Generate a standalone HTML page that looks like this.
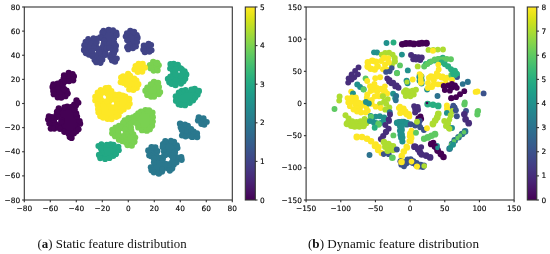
<!DOCTYPE html>
<html><head><meta charset="utf-8"><style>
html,body{margin:0;padding:0;background:#fff;width:550px;height:254px;overflow:hidden}
svg{display:block}
</style></head><body>
<svg width="550" height="254" viewBox="0 0 550 254">
<defs><linearGradient id="g1" x1="0" y1="1" x2="0" y2="0"><stop offset="0.0000" stop-color="#440154"/><stop offset="0.0312" stop-color="#470d60"/><stop offset="0.0625" stop-color="#48186a"/><stop offset="0.0938" stop-color="#482374"/><stop offset="0.1250" stop-color="#472d7b"/><stop offset="0.1562" stop-color="#453781"/><stop offset="0.1875" stop-color="#424086"/><stop offset="0.2188" stop-color="#3e4989"/><stop offset="0.2500" stop-color="#3b528b"/><stop offset="0.2812" stop-color="#375b8d"/><stop offset="0.3125" stop-color="#33638d"/><stop offset="0.3438" stop-color="#2f6b8e"/><stop offset="0.3750" stop-color="#2c728e"/><stop offset="0.4062" stop-color="#297a8e"/><stop offset="0.4375" stop-color="#26828e"/><stop offset="0.4688" stop-color="#23898e"/><stop offset="0.5000" stop-color="#21918c"/><stop offset="0.5312" stop-color="#1f988b"/><stop offset="0.5625" stop-color="#1fa088"/><stop offset="0.5938" stop-color="#22a785"/><stop offset="0.6250" stop-color="#28ae80"/><stop offset="0.6562" stop-color="#32b67a"/><stop offset="0.6875" stop-color="#3fbc73"/><stop offset="0.7188" stop-color="#4ec36b"/><stop offset="0.7500" stop-color="#5ec962"/><stop offset="0.7812" stop-color="#70cf57"/><stop offset="0.8125" stop-color="#84d44b"/><stop offset="0.8438" stop-color="#98d83e"/><stop offset="0.8750" stop-color="#addc30"/><stop offset="0.9062" stop-color="#c2df23"/><stop offset="0.9375" stop-color="#d8e219"/><stop offset="0.9688" stop-color="#ece51b"/><stop offset="1.0000" stop-color="#fde725"/></linearGradient></defs>
<g fill="#440154"><path d="M75.8,100.5 L75.2,100.8 L74.8,101.2 L74.5,101.8 L74.5,102.2 L74.5,102.8 L74.5,103.2 L74.5,103.8 L74.2,104.2 L74.0,104.8 L73.8,105.2 L73.2,105.8 L73.0,106.2 L72.5,106.5 L72.0,106.8 L71.5,107.0 L71.0,107.0 L70.5,107.0 L70.0,106.8 L69.5,106.8 L69.0,106.5 L68.5,106.5 L68.0,106.8 L67.5,106.8 L67.0,106.8 L66.5,106.8 L66.0,107.0 L65.5,107.0 L65.0,107.0 L64.5,107.0 L64.0,107.2 L63.5,107.2 L63.0,107.2 L62.5,107.5 L62.0,107.5 L61.5,107.5 L61.0,107.8 L60.5,107.8 L60.0,107.8 L59.5,108.0 L59.0,108.0 L58.5,108.5 L58.2,109.0 L58.0,109.5 L57.5,110.0 L57.2,110.5 L57.0,111.0 L57.0,111.5 L56.8,112.0 L56.8,112.5 L56.5,113.0 L56.5,113.5 L56.2,114.0 L56.5,114.5 L56.5,115.0 L56.8,115.5 L56.8,116.0 L56.5,116.5 L56.5,117.0 L56.5,117.2 L57.0,117.0 L57.5,116.8 L58.0,116.8 L58.5,117.0 L59.0,117.2 L59.5,117.2 L60.0,117.5 L60.5,118.0 L61.0,118.5 L61.2,119.0 L61.2,119.5 L61.5,120.0 L61.8,120.5 L61.8,121.0 L61.5,121.5 L61.2,122.0 L61.2,122.5 L61.0,123.0 L60.5,123.5 L60.0,124.0 L59.5,124.2 L59.0,124.2 L58.5,124.5 L58.0,124.8 L57.5,125.0 L57.0,125.0 L56.5,124.8 L56.0,124.5 L55.5,124.2 L55.2,123.8 L54.8,123.2 L54.5,122.8 L54.2,122.2 L54.0,121.8 L54.0,121.2 L53.8,120.8 L54.0,120.2 L54.0,119.8 L54.2,119.2 L54.5,118.8 L54.8,118.2 L54.2,118.5 L53.8,118.2 L53.2,118.2 L52.8,118.0 L52.2,117.5 L51.8,117.0 L51.5,116.8 L51.0,116.5 L50.5,116.2 L50.0,116.0 L49.5,116.0 L49.0,116.0 L48.5,116.5 L48.0,116.8 L47.5,117.2 L47.5,117.8 L47.5,118.2 L47.5,118.8 L47.8,119.2 L48.2,119.8 L48.5,120.2 L48.8,120.8 L49.0,121.2 L49.2,121.8 L49.2,122.2 L49.2,122.8 L49.2,123.2 L49.2,123.8 L49.2,124.2 L49.5,124.8 L49.5,125.2 L49.5,125.8 L49.5,126.2 L49.5,126.8 L50.0,127.2 L50.2,127.8 L50.5,128.2 L51.0,128.8 L51.5,129.0 L52.0,129.0 L52.5,129.0 L53.0,129.0 L53.5,129.0 L54.0,128.8 L54.5,128.5 L55.0,128.2 L55.5,127.8 L56.0,127.5 L56.5,127.2 L57.0,127.2 L57.5,127.0 L58.0,127.0 L58.5,127.2 L59.0,127.5 L59.5,127.8 L59.8,128.2 L60.0,128.8 L60.2,129.2 L60.5,129.5 L61.0,130.0 L61.5,130.2 L62.0,130.8 L62.5,131.0 L63.0,131.5 L63.5,131.5 L64.0,131.8 L64.5,131.8 L65.0,131.8 L65.5,132.0 L66.0,132.0 L66.5,132.2 L67.0,132.5 L67.5,132.8 L68.0,133.0 L68.5,133.5 L68.8,134.0 L68.8,134.5 L69.0,135.0 L69.2,135.5 L69.2,136.0 L69.5,136.5 L69.8,137.0 L69.8,137.5 L70.0,138.0 L70.5,138.2 L71.0,138.5 L71.2,138.2 L71.8,137.8 L72.2,137.2 L72.5,136.8 L72.8,136.2 L72.8,135.8 L73.0,135.2 L73.0,134.8 L73.2,134.2 L73.5,133.8 L73.8,133.2 L74.0,132.8 L74.5,132.5 L75.0,132.0 L75.5,131.8 L76.0,131.5 L76.5,131.2 L77.0,130.8 L77.5,130.5 L78.0,130.2 L78.2,129.8 L78.5,129.2 L78.8,128.8 L79.0,128.2 L79.2,127.8 L79.5,127.2 L79.8,126.8 L80.0,126.2 L80.2,125.8 L80.2,125.2 L80.2,124.8 L80.2,124.2 L80.2,123.8 L80.2,123.2 L80.2,122.8 L80.2,122.2 L80.0,121.8 L79.8,121.2 L79.5,120.8 L79.0,120.2 L78.8,119.8 L78.5,119.2 L78.0,118.8 L77.8,118.2 L77.5,117.8 L77.2,117.2 L77.0,116.8 L76.8,116.2 L76.8,115.8 L76.5,115.2 L76.5,114.8 L76.5,114.2 L76.2,113.8 L76.2,113.2 L76.0,112.8 L76.0,112.2 L76.0,111.8 L75.8,111.2 L75.2,110.8 L75.0,110.2 L74.8,109.8 L74.5,109.2 L74.5,108.8 L74.5,108.2 L74.8,107.8 L75.0,107.2 L75.2,106.8 L75.8,106.2 L75.8,105.8 L76.0,105.2 L76.5,104.8 L77.0,104.5 L77.5,104.2 L78.0,104.0 L78.2,103.5 L78.5,103.0 L78.5,102.5 L78.5,102.0 L78.2,101.5 L78.0,101.0 L77.5,100.8 L77.0,100.5 L76.5,100.5 L76.0,100.5ZM67.8,72.8 L67.2,73.0 L66.8,73.2 L66.2,73.5 L65.8,73.8 L65.2,74.0 L64.8,74.2 L64.5,74.5 L64.2,75.0 L64.0,75.5 L63.8,76.0 L63.5,76.5 L63.5,77.0 L63.5,77.5 L63.5,78.0 L63.5,78.5 L63.2,79.0 L63.2,79.5 L63.0,80.0 L62.8,80.5 L62.5,81.0 L62.0,81.5 L61.5,82.0 L61.2,82.5 L60.8,83.0 L60.2,83.2 L59.8,83.5 L59.2,83.8 L58.8,83.8 L58.2,83.8 L57.8,83.5 L57.2,83.5 L56.8,83.5 L56.2,83.5 L55.8,83.5 L55.2,83.5 L54.8,83.8 L54.2,84.0 L53.8,84.0 L53.2,84.2 L52.8,84.2 L52.5,84.8 L52.2,85.2 L52.2,85.8 L52.5,86.2 L52.5,86.8 L52.8,87.2 L53.0,87.8 L53.2,88.2 L53.2,88.8 L53.5,89.2 L53.5,89.8 L53.5,90.2 L53.2,90.8 L53.2,91.2 L53.0,91.8 L53.0,92.2 L53.0,92.8 L53.0,93.2 L53.2,93.8 L53.8,94.2 L54.0,94.8 L54.2,95.2 L54.5,95.8 L55.0,96.0 L55.5,96.2 L56.0,96.8 L56.5,97.0 L57.0,97.2 L57.5,97.5 L58.0,98.0 L58.5,98.0 L59.0,97.8 L59.5,97.8 L60.0,97.8 L60.5,97.8 L61.0,97.8 L61.5,97.5 L62.0,97.5 L62.5,97.2 L63.0,97.2 L63.5,97.0 L64.0,96.8 L64.5,96.5 L65.0,96.2 L65.5,96.0 L66.0,96.0 L66.5,95.8 L66.8,95.2 L67.0,94.8 L67.2,94.2 L67.5,93.8 L67.8,93.2 L67.8,92.8 L67.8,92.2 L67.5,91.8 L67.5,91.2 L67.2,90.8 L66.8,90.5 L66.2,90.2 L65.8,90.0 L65.2,89.8 L64.8,89.5 L64.2,89.2 L63.8,88.8 L63.5,88.2 L63.5,87.8 L63.2,87.2 L63.0,86.8 L63.0,86.2 L62.8,85.8 L62.8,85.2 L62.8,84.8 L63.0,84.2 L63.0,83.8 L63.2,83.2 L63.8,82.8 L64.0,82.2 L64.2,81.8 L64.8,81.5 L65.2,81.2 L65.8,81.0 L66.2,81.0 L66.8,81.0 L67.2,81.2 L67.8,81.2 L68.2,81.2 L68.8,81.2 L69.2,81.2 L69.8,81.2 L70.2,81.5 L70.8,81.5 L71.2,81.5 L71.8,81.2 L72.2,81.0 L72.8,80.5 L73.2,80.2 L73.5,79.8 L73.8,79.2 L73.8,78.8 L74.0,78.2 L74.0,77.8 L74.0,77.2 L74.0,76.8 L73.8,76.2 L73.8,75.8 L73.5,75.2 L73.5,74.8 L73.0,74.5 L72.5,74.0 L72.0,73.5 L71.5,73.2 L71.0,73.0 L70.5,73.0 L70.0,73.0 L69.5,73.0 L69.0,73.0 L68.5,72.8 L68.0,72.8Z" fill-rule="evenodd"/><circle cx="76.5" cy="100.5" r="3.20"/><circle cx="74.1" cy="104.6" r="3.03"/><circle cx="71.6" cy="106.9" r="3.08"/><circle cx="67.2" cy="106.8" r="3.19"/><circle cx="64.3" cy="107.2" r="2.96"/><circle cx="58.7" cy="108.3" r="3.08"/><circle cx="56.8" cy="111.7" r="2.95"/><circle cx="56.5" cy="115.1" r="3.17"/><circle cx="57.5" cy="116.8" r="3.23"/><circle cx="61.5" cy="119.9" r="2.96"/><circle cx="61.2" cy="122.0" r="3.11"/><circle cx="56.6" cy="124.8" r="3.06"/><circle cx="54.6" cy="123.1" r="3.08"/><circle cx="54.1" cy="119.7" r="3.02"/><circle cx="51.9" cy="117.1" r="3.10"/><circle cx="48.8" cy="116.2" r="3.02"/><circle cx="48.1" cy="119.6" r="3.09"/><circle cx="49.2" cy="123.6" r="2.96"/><circle cx="50.8" cy="128.6" r="3.12"/><circle cx="54.3" cy="128.7" r="3.01"/><circle cx="58.6" cy="127.2" r="3.21"/><circle cx="60.0" cy="128.9" r="3.05"/><circle cx="64.3" cy="131.8" r="3.16"/><circle cx="68.4" cy="133.4" r="3.08"/><circle cx="69.8" cy="137.0" r="3.15"/><circle cx="71.6" cy="137.9" r="3.13"/><circle cx="73.8" cy="133.2" r="3.20"/><circle cx="76.4" cy="131.2" r="3.13"/><circle cx="78.6" cy="129.2" r="3.02"/><circle cx="80.2" cy="123.8" r="3.07"/><circle cx="79.6" cy="121.1" r="3.11"/><circle cx="77.0" cy="116.6" r="3.15"/><circle cx="76.2" cy="113.3" r="3.08"/><circle cx="74.6" cy="109.3" r="3.18"/><circle cx="76.0" cy="105.5" r="3.07"/><circle cx="78.5" cy="102.7" r="2.96"/><circle cx="68.7" cy="72.9" r="3.16"/><circle cx="64.0" cy="75.5" r="3.13"/><circle cx="63.5" cy="78.4" r="3.00"/><circle cx="61.4" cy="82.1" r="3.24"/><circle cx="57.5" cy="83.5" r="3.11"/><circle cx="53.3" cy="84.2" r="3.02"/><circle cx="52.7" cy="86.9" r="3.24"/><circle cx="53.2" cy="90.9" r="3.09"/><circle cx="53.7" cy="94.2" r="3.11"/><circle cx="57.6" cy="97.6" r="2.95"/><circle cx="61.2" cy="97.5" r="3.20"/><circle cx="65.3" cy="96.2" r="3.17"/><circle cx="67.7" cy="93.5" r="3.11"/><circle cx="66.6" cy="90.5" r="3.08"/><circle cx="64.0" cy="89.0" r="3.21"/><circle cx="63.0" cy="84.2" r="3.01"/><circle cx="65.3" cy="81.2" r="3.10"/><circle cx="69.1" cy="81.2" r="3.05"/><circle cx="73.2" cy="80.3" r="3.14"/><circle cx="73.9" cy="76.4" r="3.09"/><circle cx="72.6" cy="74.1" r="3.02"/></g>
<g fill="#414487"><path d="M148.0,43.8 L147.5,44.0 L147.0,44.0 L146.5,44.0 L146.0,44.2 L145.5,44.2 L145.0,44.5 L144.5,45.0 L144.2,45.5 L143.8,46.0 L143.5,46.5 L143.5,47.0 L143.5,47.5 L143.2,48.0 L143.2,48.5 L143.2,49.0 L143.2,49.5 L143.8,50.0 L144.0,50.5 L144.2,51.0 L144.5,51.5 L144.8,52.0 L145.2,52.0 L145.8,52.2 L146.2,52.5 L146.8,52.8 L147.2,52.5 L147.8,52.5 L148.2,52.2 L148.8,52.0 L149.2,52.0 L149.8,51.8 L150.2,51.2 L150.8,50.8 L151.2,50.5 L151.8,50.0 L152.0,49.5 L152.0,49.0 L152.0,48.5 L152.2,48.0 L152.2,47.5 L152.2,47.0 L152.0,46.5 L151.8,46.0 L151.5,45.5 L151.0,45.0 L150.8,44.8 L150.2,44.5 L149.8,44.5 L149.2,44.2 L148.8,44.0 L148.2,43.8ZM129.5,30.8 L129.0,31.0 L128.5,31.5 L128.0,31.8 L127.8,32.2 L127.2,32.8 L127.0,33.2 L126.5,33.8 L126.2,34.2 L126.2,34.8 L126.0,35.2 L126.0,35.8 L126.0,36.2 L125.8,36.8 L126.0,37.2 L126.2,37.8 L126.5,38.2 L126.5,38.8 L126.8,39.2 L127.0,39.8 L127.2,40.2 L127.5,40.8 L127.8,41.2 L128.0,41.8 L128.2,42.2 L128.5,42.8 L128.8,43.2 L129.0,43.8 L129.2,44.2 L129.2,44.8 L129.0,45.2 L128.8,45.8 L128.5,46.2 L128.0,46.5 L127.5,47.0 L127.0,47.2 L126.5,47.8 L126.5,48.2 L127.0,48.8 L127.5,49.0 L128.0,49.2 L128.5,49.2 L129.0,49.2 L129.5,49.2 L130.0,49.2 L130.5,49.2 L131.0,49.2 L131.5,49.0 L132.0,48.8 L132.5,48.5 L133.0,48.2 L133.5,48.0 L134.0,47.8 L134.5,47.2 L135.0,47.0 L135.5,46.5 L136.0,46.0 L136.2,45.8 L136.2,45.2 L136.5,44.8 L136.5,44.2 L136.8,43.8 L136.8,43.2 L137.0,42.8 L137.0,42.2 L137.0,41.8 L137.2,41.2 L137.2,40.8 L137.2,40.2 L137.5,39.8 L137.5,39.2 L137.5,38.8 L137.5,38.2 L137.5,37.8 L137.5,37.2 L137.5,36.8 L137.5,36.2 L137.2,35.8 L137.0,35.2 L136.8,34.8 L136.5,34.2 L136.0,33.8 L135.8,33.2 L135.2,33.0 L134.8,32.8 L134.2,32.2 L133.8,32.0 L133.2,31.5 L132.8,31.2 L132.2,31.0 L131.8,31.0 L131.2,31.0 L130.8,30.8 L130.2,30.8 L129.8,30.8ZM108.0,29.8 L107.5,30.0 L107.0,30.0 L106.5,30.0 L106.0,30.0 L105.5,30.0 L105.0,30.0 L104.5,30.2 L104.0,30.5 L103.5,30.8 L103.0,31.0 L102.5,31.2 L102.0,31.5 L102.0,32.0 L102.2,32.5 L102.5,33.0 L102.8,33.5 L102.8,34.0 L102.5,34.5 L102.2,35.0 L102.0,35.5 L101.5,36.0 L101.0,36.5 L100.5,37.0 L100.0,37.5 L99.5,38.0 L99.5,38.0 L100.0,38.0 L100.5,37.8 L101.0,38.0 L101.5,38.0 L102.0,38.2 L102.5,38.5 L103.0,38.8 L103.5,39.2 L103.8,39.8 L104.0,40.2 L104.2,40.8 L104.2,41.2 L104.5,41.8 L104.2,42.2 L104.2,42.8 L104.0,43.2 L103.8,43.8 L103.5,44.2 L103.2,44.8 L103.2,45.2 L103.0,45.8 L102.8,46.2 L102.8,46.8 L102.5,47.2 L102.0,47.8 L101.5,48.2 L101.0,48.5 L100.5,48.5 L100.0,48.8 L99.5,49.0 L99.0,49.0 L98.5,48.8 L98.0,48.5 L97.5,48.5 L97.0,48.2 L96.5,47.8 L96.0,47.2 L95.8,46.8 L95.8,46.2 L95.5,45.8 L95.2,45.2 L95.2,44.8 L95.5,44.2 L95.8,43.8 L95.8,43.2 L96.0,42.8 L96.5,42.2 L96.5,41.8 L96.8,41.2 L96.8,40.8 L97.0,40.2 L97.2,39.8 L97.5,39.2 L98.0,38.8 L97.5,39.0 L97.0,39.0 L96.5,38.8 L96.0,38.8 L95.5,38.8 L95.0,38.5 L94.5,38.5 L94.0,38.5 L93.5,38.2 L93.0,38.2 L92.5,38.2 L92.0,38.0 L91.5,38.2 L91.0,38.2 L90.5,38.5 L90.0,38.5 L89.5,38.8 L89.0,39.0 L88.5,39.0 L88.0,39.2 L87.5,39.2 L87.0,39.8 L86.8,40.2 L86.5,40.8 L86.2,41.2 L86.0,41.8 L85.5,42.2 L85.2,42.8 L85.0,43.2 L84.8,43.8 L84.5,44.2 L84.2,44.8 L84.2,45.2 L84.2,45.8 L84.2,46.2 L84.0,46.8 L84.0,47.2 L84.0,47.8 L84.0,48.2 L83.8,48.8 L83.8,49.2 L84.0,49.8 L84.2,50.2 L84.5,50.8 L84.8,51.2 L85.0,51.8 L85.2,52.2 L85.5,52.8 L85.8,53.0 L86.2,53.2 L86.8,53.5 L87.2,53.8 L87.8,54.0 L88.2,54.5 L88.8,54.8 L89.2,55.0 L89.8,55.2 L90.2,55.5 L90.8,55.5 L91.2,55.8 L91.8,56.0 L92.2,56.0 L92.8,56.2 L93.2,56.8 L93.5,57.2 L93.8,57.8 L94.0,58.2 L94.2,58.8 L94.2,59.2 L94.2,59.8 L94.5,60.2 L94.5,60.8 L94.8,61.2 L94.8,61.8 L95.2,61.8 L95.8,62.0 L96.2,62.2 L96.8,62.5 L97.2,62.5 L97.8,62.8 L98.2,63.0 L98.8,63.2 L99.2,63.0 L99.8,63.0 L100.2,62.8 L100.8,62.8 L101.2,62.5 L101.5,62.2 L101.8,61.8 L101.8,61.2 L102.0,60.8 L102.0,60.2 L102.0,59.8 L102.2,59.2 L102.5,58.8 L102.5,58.2 L102.8,57.8 L103.2,57.2 L103.8,56.8 L104.2,56.2 L104.8,55.8 L105.2,55.2 L105.8,54.8 L106.2,54.5 L106.2,54.2 L105.8,53.8 L105.5,53.2 L105.5,52.8 L105.2,52.2 L105.0,51.8 L105.0,51.2 L105.2,50.8 L105.5,50.2 L105.5,49.8 L105.8,49.2 L106.2,48.8 L106.8,48.2 L107.2,48.0 L107.8,48.0 L108.2,47.8 L108.8,47.5 L109.2,47.5 L109.8,47.8 L110.2,48.0 L110.8,48.0 L111.2,48.2 L111.8,48.8 L112.2,49.2 L112.5,49.8 L112.5,50.2 L112.8,50.8 L113.0,51.2 L113.0,51.8 L112.8,52.2 L112.5,52.8 L112.5,53.2 L112.2,53.8 L111.8,54.2 L111.2,54.8 L110.8,55.0 L110.2,55.0 L109.8,55.2 L109.5,55.5 L109.8,56.0 L110.0,56.5 L110.2,57.0 L110.5,57.5 L110.8,58.0 L111.0,58.5 L111.5,59.0 L111.8,59.5 L112.0,60.0 L112.5,60.5 L112.8,61.0 L113.2,61.5 L113.5,61.8 L114.0,61.8 L114.5,61.8 L115.0,61.5 L115.5,61.5 L115.8,61.2 L116.0,60.8 L116.0,60.2 L116.2,59.8 L116.5,59.2 L116.8,58.8 L116.5,58.2 L116.2,57.8 L116.0,57.2 L115.5,56.8 L115.2,56.2 L115.0,55.8 L114.8,55.2 L114.5,54.8 L114.2,54.2 L114.0,53.8 L114.0,53.2 L114.2,52.8 L114.2,52.2 L114.5,51.8 L114.8,51.2 L115.0,50.8 L115.2,50.2 L115.5,49.8 L115.8,49.2 L116.0,48.8 L116.0,48.2 L116.0,47.8 L116.0,47.2 L116.0,46.8 L116.0,46.2 L116.0,45.8 L116.0,45.2 L115.5,44.8 L115.2,44.2 L114.8,43.8 L114.5,43.2 L114.0,42.8 L113.8,42.2 L113.5,41.8 L113.2,41.2 L113.0,40.8 L113.0,40.2 L113.2,39.8 L113.5,39.2 L113.8,38.8 L114.2,38.2 L114.8,37.8 L115.2,37.2 L115.8,36.8 L116.2,36.2 L116.2,35.8 L116.5,35.2 L116.5,34.8 L116.8,34.2 L116.8,33.8 L116.8,33.2 L116.2,32.8 L116.0,32.2 L115.5,31.8 L115.2,31.2 L114.8,30.8 L114.2,30.5 L113.8,30.5 L113.2,30.5 L112.8,30.2 L112.2,30.2 L111.8,30.0 L111.2,30.0 L110.8,29.8 L110.2,29.8 L109.8,29.8 L109.2,29.8 L108.8,29.8 L108.2,29.8ZM95.0,48.0 L95.5,47.8 L96.0,48.0 L96.5,48.0 L97.0,48.2 L97.5,48.5 L98.0,48.8 L98.5,49.2 L98.8,49.8 L98.8,50.2 L99.0,50.8 L99.2,51.2 L99.2,51.8 L99.0,52.2 L98.8,52.8 L98.8,53.2 L98.5,53.8 L98.0,54.2 L97.5,54.5 L97.0,54.8 L96.5,55.0 L96.0,55.0 L95.5,55.2 L95.0,55.0 L94.5,55.0 L94.0,54.8 L93.5,54.5 L93.0,54.2 L92.5,53.8 L92.2,53.2 L92.2,52.8 L92.0,52.2 L91.8,51.8 L91.8,51.2 L92.0,50.8 L92.2,50.2 L92.2,49.8 L92.5,49.2 L93.0,48.8 L93.5,48.5 L94.0,48.2 L94.5,48.0Z" fill-rule="evenodd"/><circle cx="148.6" cy="44.0" r="3.13"/><circle cx="143.9" cy="45.8" r="3.19"/><circle cx="143.4" cy="49.6" r="3.19"/><circle cx="144.9" cy="52.0" r="3.20"/><circle cx="149.4" cy="51.8" r="2.97"/><circle cx="151.6" cy="50.2" r="2.95"/><circle cx="151.1" cy="45.1" r="3.02"/><circle cx="130.3" cy="30.8" r="3.14"/><circle cx="126.9" cy="33.3" r="2.97"/><circle cx="125.8" cy="36.6" r="3.11"/><circle cx="127.2" cy="40.3" r="3.03"/><circle cx="129.2" cy="44.8" r="3.09"/><circle cx="127.2" cy="47.2" r="3.09"/><circle cx="128.2" cy="49.2" r="3.07"/><circle cx="132.9" cy="48.3" r="3.01"/><circle cx="135.7" cy="46.3" r="3.22"/><circle cx="137.0" cy="41.9" r="3.01"/><circle cx="137.5" cy="37.7" r="3.20"/><circle cx="136.8" cy="35.0" r="2.96"/><circle cx="134.0" cy="32.0" r="3.17"/><circle cx="108.7" cy="29.8" r="3.16"/><circle cx="103.6" cy="30.8" r="3.11"/><circle cx="102.5" cy="32.8" r="3.24"/><circle cx="100.2" cy="37.3" r="3.10"/><circle cx="100.8" cy="37.8" r="3.14"/><circle cx="104.0" cy="40.5" r="3.12"/><circle cx="103.6" cy="44.2" r="3.14"/><circle cx="102.3" cy="47.5" r="3.04"/><circle cx="96.8" cy="48.1" r="3.21"/><circle cx="95.5" cy="45.7" r="3.21"/><circle cx="96.5" cy="41.9" r="3.23"/><circle cx="96.6" cy="38.8" r="3.07"/><circle cx="93.5" cy="38.3" r="2.95"/><circle cx="88.2" cy="39.0" r="2.96"/><circle cx="85.8" cy="42.0" r="3.24"/><circle cx="84.2" cy="45.2" r="3.00"/><circle cx="84.1" cy="49.9" r="3.24"/><circle cx="85.8" cy="53.1" r="3.10"/><circle cx="88.9" cy="54.8" r="3.05"/><circle cx="92.3" cy="56.1" r="3.15"/><circle cx="94.5" cy="60.0" r="3.01"/><circle cx="96.3" cy="62.2" r="3.15"/><circle cx="100.5" cy="62.8" r="3.10"/><circle cx="102.2" cy="59.4" r="3.21"/><circle cx="105.4" cy="55.1" r="2.96"/><circle cx="105.6" cy="53.3" r="3.05"/><circle cx="106.9" cy="48.2" r="3.18"/><circle cx="109.5" cy="47.7" r="3.01"/><circle cx="112.8" cy="50.8" r="3.20"/><circle cx="111.1" cy="54.8" r="3.05"/><circle cx="110.5" cy="57.3" r="3.16"/><circle cx="112.2" cy="60.2" r="3.25"/><circle cx="115.0" cy="61.5" r="3.17"/><circle cx="116.8" cy="58.6" r="3.00"/><circle cx="114.0" cy="53.5" r="3.01"/><circle cx="115.5" cy="50.0" r="3.13"/><circle cx="116.0" cy="45.7" r="3.06"/><circle cx="114.3" cy="43.1" r="3.04"/><circle cx="114.0" cy="38.5" r="3.13"/><circle cx="116.5" cy="34.9" r="3.22"/><circle cx="116.2" cy="32.6" r="3.12"/><circle cx="113.1" cy="30.3" r="2.96"/><circle cx="94.2" cy="48.2" r="3.21"/><circle cx="98.7" cy="49.7" r="3.20"/><circle cx="99.0" cy="52.5" r="3.13"/><circle cx="95.5" cy="55.2" r="3.06"/><circle cx="92.5" cy="53.7" r="3.02"/><circle cx="92.0" cy="51.0" r="3.03"/></g>
<g fill="#2a788e"><path d="M166.0,140.8 L165.5,141.0 L165.0,141.2 L164.5,141.8 L164.0,142.0 L163.5,142.2 L163.2,142.5 L163.0,143.0 L163.0,143.5 L163.0,144.0 L163.0,144.5 L163.0,145.0 L162.8,145.5 L162.8,146.0 L162.8,146.5 L162.8,147.0 L162.8,147.5 L162.8,148.0 L162.5,148.5 L162.5,149.0 L162.5,149.5 L162.5,150.0 L162.5,150.5 L163.0,150.8 L163.5,151.2 L164.0,151.8 L164.2,152.2 L164.2,152.8 L164.5,153.2 L164.8,153.8 L164.8,154.2 L164.5,154.8 L164.2,155.2 L164.2,155.8 L164.0,156.2 L163.5,156.8 L163.0,157.2 L162.5,157.5 L162.0,157.8 L161.5,158.0 L161.0,158.0 L160.5,158.2 L160.0,158.0 L159.5,158.0 L159.0,157.8 L158.5,157.5 L158.0,157.2 L157.5,156.8 L157.0,156.2 L156.8,155.8 L156.8,155.2 L156.5,154.8 L156.2,154.2 L156.2,153.8 L156.5,153.2 L156.8,152.8 L156.8,152.2 L157.0,151.8 L157.5,151.2 L157.5,150.8 L157.2,150.2 L157.2,149.8 L157.0,149.2 L157.0,148.8 L156.5,148.5 L156.0,148.0 L155.5,147.8 L155.0,147.2 L154.5,147.0 L154.0,147.0 L153.5,147.0 L153.0,147.2 L152.5,147.2 L152.0,147.2 L151.5,147.2 L151.0,147.2 L150.5,147.8 L150.0,148.2 L149.5,148.8 L149.0,149.2 L148.5,149.8 L148.5,150.2 L148.2,150.8 L148.2,151.2 L148.2,151.8 L148.0,152.2 L148.0,152.8 L148.0,153.2 L148.0,153.8 L148.5,154.2 L148.8,154.8 L149.0,155.2 L149.2,155.8 L149.5,156.2 L150.0,156.2 L150.5,156.0 L151.0,156.2 L151.5,156.2 L152.0,156.5 L152.5,156.8 L153.0,157.0 L153.5,157.5 L153.8,158.0 L154.0,158.5 L154.2,159.0 L154.2,159.5 L154.5,160.0 L154.2,160.5 L154.2,161.0 L154.0,161.5 L153.8,162.0 L153.5,162.5 L153.0,163.0 L152.5,163.2 L152.0,163.8 L151.5,164.2 L151.2,164.8 L151.0,165.2 L151.0,165.8 L151.0,166.2 L150.8,166.8 L150.8,167.2 L150.8,167.8 L150.8,168.2 L150.5,168.8 L151.0,169.2 L151.2,169.8 L151.5,170.2 L151.8,170.8 L152.2,171.2 L152.5,171.8 L152.8,172.0 L153.2,172.2 L153.8,172.5 L154.2,172.8 L154.8,172.8 L155.2,173.0 L155.8,173.2 L156.2,173.5 L156.8,173.8 L157.2,173.8 L157.8,173.5 L158.2,173.5 L158.8,173.5 L159.2,173.5 L159.8,173.5 L160.2,173.2 L160.8,173.2 L161.2,173.0 L161.8,172.8 L162.2,172.2 L162.0,171.8 L162.0,171.2 L162.2,170.8 L162.5,170.2 L162.5,169.8 L162.8,169.2 L163.2,168.8 L163.8,168.2 L164.2,168.0 L164.8,168.0 L165.2,167.8 L165.8,167.5 L166.2,167.5 L166.8,167.8 L167.2,168.0 L167.8,168.0 L168.2,168.2 L168.8,168.8 L169.2,169.2 L169.5,169.8 L169.5,170.2 L170.0,170.5 L170.5,170.5 L171.0,170.0 L171.2,169.5 L171.8,169.0 L172.2,168.5 L172.5,168.0 L172.8,167.5 L173.0,167.0 L173.2,166.5 L173.2,166.0 L173.5,165.5 L173.8,165.0 L174.0,164.5 L174.2,164.0 L174.5,163.5 L175.0,163.0 L175.5,162.8 L176.0,162.5 L176.5,162.5 L177.0,162.2 L177.5,162.2 L178.0,162.0 L178.5,162.0 L179.0,161.8 L179.5,161.8 L180.0,161.5 L180.5,161.0 L181.0,160.5 L181.5,160.0 L182.0,159.5 L182.2,159.0 L182.2,158.5 L182.2,158.0 L182.0,157.8 L181.5,157.5 L181.0,157.2 L180.5,157.0 L180.0,157.0 L179.5,157.0 L179.0,157.0 L178.5,157.0 L178.0,157.0 L177.5,157.0 L177.0,157.0 L176.5,157.0 L176.0,157.0 L175.5,156.8 L175.0,156.8 L174.5,156.5 L174.0,156.0 L173.8,155.5 L173.8,155.0 L173.5,154.5 L173.8,154.0 L173.8,153.5 L174.0,153.0 L174.5,152.5 L175.0,152.2 L175.5,151.8 L176.0,151.5 L176.5,151.0 L177.0,150.8 L177.0,150.2 L177.0,149.8 L177.2,149.2 L177.2,148.8 L177.5,148.2 L177.5,147.8 L177.5,147.2 L177.5,146.8 L177.2,146.2 L177.0,145.8 L176.8,145.2 L176.5,144.8 L176.2,144.2 L176.0,143.8 L175.8,143.2 L175.5,142.8 L175.0,142.5 L174.5,142.2 L174.0,142.0 L173.5,141.8 L173.0,141.5 L172.5,141.2 L172.0,141.0 L171.5,140.8 L171.0,140.8 L170.5,140.8 L170.0,140.8 L169.5,140.8 L169.0,140.8 L168.5,140.8 L168.0,140.8 L167.5,140.8 L167.0,140.8 L166.5,140.8ZM167.5,154.5 L168.0,154.2 L168.5,154.5 L169.0,154.5 L169.5,154.8 L170.0,154.8 L170.5,155.0 L171.0,155.2 L171.5,155.8 L172.0,156.2 L172.2,156.8 L172.5,157.2 L172.8,157.8 L173.0,158.2 L173.0,158.8 L173.2,159.2 L173.2,159.8 L173.0,160.2 L173.0,160.8 L172.8,161.2 L172.5,161.8 L172.2,162.2 L172.0,162.8 L171.5,163.2 L171.0,163.8 L170.5,164.0 L170.0,164.2 L169.5,164.2 L169.0,164.5 L168.5,164.5 L168.0,164.8 L167.5,164.5 L167.0,164.5 L166.5,164.2 L166.0,164.2 L165.5,164.0 L165.0,163.8 L164.5,163.2 L164.0,162.8 L163.8,162.2 L163.5,161.8 L163.2,161.2 L163.0,160.8 L163.0,160.2 L162.8,159.8 L162.8,159.2 L163.0,158.8 L163.0,158.2 L163.2,157.8 L163.5,157.2 L163.8,156.8 L164.0,156.2 L164.5,155.8 L165.0,155.2 L165.5,155.0 L166.0,154.8 L166.5,154.8 L167.0,154.5ZM180.5,123.2 L180.0,123.8 L179.5,124.2 L179.5,124.8 L179.5,125.2 L179.5,125.8 L179.5,126.2 L180.0,126.8 L180.5,127.2 L180.8,127.8 L181.2,128.2 L181.5,128.8 L181.5,129.2 L181.8,129.8 L181.8,130.2 L181.5,130.8 L181.5,131.2 L181.2,131.8 L181.2,132.2 L181.0,132.8 L181.0,133.2 L181.0,133.8 L181.2,134.2 L181.5,134.8 L182.0,135.2 L182.2,135.8 L182.5,136.0 L183.0,136.2 L183.5,136.5 L184.0,136.8 L184.5,136.8 L185.0,136.8 L185.5,136.5 L186.0,136.5 L186.5,136.2 L187.0,136.0 L187.5,136.0 L188.0,135.8 L188.5,135.5 L189.0,135.5 L189.5,135.8 L190.0,135.8 L190.5,136.0 L191.0,136.2 L191.5,136.5 L192.0,136.8 L192.5,137.0 L193.0,137.2 L193.5,137.5 L194.0,137.5 L194.5,137.8 L195.0,137.8 L195.5,137.8 L196.0,137.5 L196.5,137.2 L197.0,137.0 L197.2,136.8 L197.5,136.2 L197.8,135.8 L198.0,135.2 L197.8,134.8 L197.5,134.2 L197.0,133.8 L196.8,133.2 L196.5,132.8 L196.0,132.5 L195.5,132.2 L195.0,132.0 L194.5,131.8 L194.0,131.5 L193.5,131.2 L193.0,131.0 L192.5,130.8 L192.0,130.2 L191.8,129.8 L191.5,129.2 L191.0,128.8 L190.8,128.2 L190.5,127.8 L190.2,127.2 L189.8,127.0 L189.2,126.8 L188.8,126.5 L188.2,126.2 L187.8,126.0 L187.2,125.8 L186.8,125.5 L186.2,125.2 L185.8,124.8 L185.2,124.5 L184.8,124.2 L184.2,124.0 L183.8,123.8 L183.2,123.2 L182.8,123.2 L182.2,123.2 L181.8,123.2 L181.2,123.2 L180.8,123.2ZM199.8,117.0 L199.2,117.2 L198.8,117.5 L198.5,118.0 L198.2,118.5 L198.0,119.0 L197.8,119.5 L198.0,120.0 L198.0,120.5 L198.0,121.0 L198.0,121.5 L198.2,122.0 L198.8,122.2 L199.2,122.5 L199.8,122.8 L200.2,123.2 L200.8,123.5 L201.2,123.8 L201.8,124.0 L202.2,124.2 L202.8,124.5 L203.2,124.8 L203.8,125.0 L204.2,124.8 L204.8,124.5 L205.2,124.2 L205.5,124.0 L206.0,123.5 L206.2,123.0 L206.5,122.5 L206.8,122.0 L206.8,121.5 L206.8,121.0 L206.5,120.5 L206.2,120.0 L205.8,119.8 L205.2,119.2 L204.8,119.0 L204.2,118.8 L203.8,118.5 L203.2,118.0 L202.8,117.8 L202.2,117.5 L201.8,117.2 L201.2,117.0 L200.8,117.0 L200.2,117.0Z" fill-rule="evenodd"/><circle cx="165.3" cy="141.2" r="3.12"/><circle cx="163.0" cy="144.0" r="3.09"/><circle cx="162.8" cy="146.9" r="3.19"/><circle cx="163.8" cy="151.6" r="2.95"/><circle cx="164.4" cy="155.1" r="2.98"/><circle cx="162.7" cy="157.5" r="3.22"/><circle cx="159.1" cy="157.8" r="3.02"/><circle cx="156.5" cy="153.0" r="3.08"/><circle cx="157.5" cy="150.9" r="3.00"/><circle cx="155.3" cy="147.5" r="3.17"/><circle cx="151.6" cy="147.2" r="3.22"/><circle cx="148.4" cy="150.6" r="3.24"/><circle cx="149.2" cy="155.4" r="3.04"/><circle cx="151.2" cy="156.2" r="3.09"/><circle cx="154.0" cy="158.5" r="3.15"/><circle cx="153.8" cy="162.2" r="2.95"/><circle cx="150.8" cy="167.2" r="3.04"/><circle cx="151.5" cy="170.2" r="3.08"/><circle cx="153.8" cy="172.5" r="2.97"/><circle cx="158.8" cy="173.5" r="3.24"/><circle cx="162.1" cy="171.8" r="2.98"/><circle cx="162.8" cy="169.5" r="3.14"/><circle cx="167.6" cy="168.0" r="3.11"/><circle cx="169.8" cy="170.5" r="3.15"/><circle cx="172.2" cy="168.5" r="3.11"/><circle cx="173.8" cy="164.7" r="3.02"/><circle cx="176.5" cy="162.5" r="3.03"/><circle cx="181.7" cy="159.8" r="3.08"/><circle cx="181.2" cy="157.2" r="3.14"/><circle cx="176.3" cy="157.0" r="3.07"/><circle cx="174.0" cy="155.8" r="3.05"/><circle cx="174.9" cy="152.3" r="3.20"/><circle cx="177.5" cy="148.1" r="3.04"/><circle cx="176.8" cy="145.3" r="3.11"/><circle cx="174.0" cy="142.0" r="3.13"/><circle cx="170.9" cy="140.8" r="2.96"/><circle cx="166.9" cy="154.5" r="2.97"/><circle cx="171.3" cy="155.5" r="2.97"/><circle cx="172.9" cy="158.1" r="3.14"/><circle cx="172.2" cy="162.3" r="3.19"/><circle cx="168.5" cy="164.5" r="3.21"/><circle cx="165.4" cy="163.9" r="3.10"/><circle cx="162.8" cy="159.5" r="2.97"/><circle cx="164.6" cy="155.6" r="3.00"/><circle cx="180.1" cy="123.7" r="3.25"/><circle cx="180.7" cy="127.5" r="3.05"/><circle cx="181.8" cy="129.9" r="3.10"/><circle cx="182.0" cy="135.5" r="3.04"/><circle cx="185.6" cy="136.5" r="2.99"/><circle cx="189.6" cy="135.8" r="2.96"/><circle cx="192.2" cy="136.9" r="3.22"/><circle cx="197.1" cy="137.0" r="3.22"/><circle cx="196.9" cy="133.4" r="3.17"/><circle cx="193.7" cy="131.5" r="3.00"/><circle cx="191.2" cy="128.9" r="3.00"/><circle cx="187.8" cy="126.0" r="3.15"/><circle cx="185.0" cy="124.5" r="2.97"/><circle cx="198.8" cy="117.4" r="3.19"/><circle cx="198.0" cy="120.5" r="3.11"/><circle cx="201.3" cy="123.8" r="3.09"/><circle cx="204.3" cy="124.8" r="3.05"/><circle cx="206.8" cy="121.9" r="2.96"/><circle cx="203.5" cy="118.3" r="3.08"/></g>
<g fill="#22a884"><path d="M101.5,144.0 L101.0,144.2 L100.5,144.2 L100.0,144.2 L99.5,144.8 L99.0,145.0 L98.5,145.5 L98.5,146.0 L98.5,146.5 L98.8,147.0 L99.0,147.5 L99.5,147.8 L100.0,148.0 L100.5,148.2 L101.0,148.8 L101.5,149.0 L102.0,149.2 L102.2,149.8 L102.5,150.2 L102.8,150.8 L102.8,151.2 L102.5,151.8 L102.2,152.2 L102.0,152.8 L101.5,153.0 L101.0,153.2 L100.5,153.8 L100.0,154.0 L99.5,154.2 L99.0,154.8 L99.0,155.2 L98.8,155.8 L99.0,156.2 L99.0,156.8 L99.2,157.2 L99.5,157.8 L100.0,158.0 L100.5,158.2 L101.0,158.5 L101.5,158.8 L102.0,159.0 L102.5,159.0 L103.0,159.0 L103.5,159.0 L104.0,159.0 L104.5,159.0 L105.0,159.0 L105.5,159.0 L106.0,159.0 L106.5,159.0 L107.0,158.8 L107.5,158.8 L108.0,158.8 L108.5,158.5 L109.0,158.5 L109.5,158.0 L110.0,157.8 L110.5,157.5 L111.0,157.2 L111.5,157.0 L112.0,156.8 L112.5,156.2 L113.0,156.0 L113.5,155.8 L114.0,155.2 L114.5,155.0 L115.0,154.8 L115.5,154.5 L116.0,154.0 L116.5,153.8 L116.8,153.2 L117.0,152.8 L117.5,152.2 L117.8,151.8 L118.0,151.2 L118.2,150.8 L118.8,150.2 L118.8,149.8 L119.0,149.2 L119.2,148.8 L119.2,148.2 L119.5,147.8 L119.0,147.5 L118.5,147.0 L118.0,146.5 L117.5,146.2 L117.0,146.2 L116.5,146.0 L116.0,145.8 L115.5,145.5 L115.0,145.5 L114.5,145.2 L114.0,145.0 L113.5,145.0 L113.0,144.8 L112.5,144.8 L112.0,144.5 L111.5,144.2 L111.0,144.2 L110.5,144.5 L110.0,144.5 L109.5,144.5 L109.0,144.5 L108.5,144.8 L108.0,144.8 L107.5,144.8 L107.0,144.8 L106.5,144.8 L106.0,144.5 L105.5,144.5 L105.0,144.5 L104.5,144.2 L104.0,144.2 L103.5,144.2 L103.0,144.0 L102.5,144.0 L102.0,144.0ZM194.8,89.0 L194.2,89.2 L193.8,89.2 L193.2,89.5 L192.8,89.5 L192.2,89.5 L191.8,89.8 L191.2,89.8 L190.8,89.8 L190.2,90.0 L189.8,90.0 L189.2,90.0 L188.8,90.0 L188.2,90.0 L187.8,90.0 L187.2,90.0 L186.8,90.0 L186.2,90.0 L185.8,90.0 L185.2,90.0 L184.8,90.0 L184.2,90.2 L183.8,90.2 L183.2,90.5 L182.8,90.8 L182.2,91.0 L181.8,91.0 L181.2,91.2 L180.8,91.5 L180.2,91.5 L179.8,91.8 L179.2,92.0 L179.0,92.5 L178.5,93.0 L178.2,93.5 L177.8,94.0 L177.2,94.5 L177.0,95.0 L176.5,95.5 L176.0,96.0 L175.8,96.5 L175.8,97.0 L175.8,97.5 L175.8,98.0 L175.5,98.5 L175.5,99.0 L175.5,99.5 L175.5,100.0 L175.8,100.5 L176.2,101.0 L176.5,101.5 L177.0,102.0 L177.2,102.5 L177.8,103.0 L178.0,103.5 L178.5,104.0 L178.8,104.2 L179.2,104.5 L179.8,104.5 L180.2,104.8 L180.8,104.8 L181.2,105.0 L181.8,105.2 L182.2,105.2 L182.8,105.5 L183.2,105.8 L183.8,105.5 L184.2,105.2 L184.8,105.2 L185.2,105.0 L185.8,105.0 L186.2,104.8 L186.8,104.5 L187.2,104.5 L187.8,104.2 L188.2,104.2 L188.8,103.8 L189.2,103.5 L189.8,103.0 L190.2,102.5 L190.8,102.0 L191.2,101.8 L191.8,101.2 L192.2,100.8 L192.8,100.5 L193.2,100.0 L193.8,99.5 L194.0,99.0 L194.5,98.5 L194.8,98.0 L195.2,97.5 L195.8,97.0 L196.0,96.5 L196.5,96.0 L196.8,95.5 L197.2,95.0 L197.5,94.5 L198.0,94.0 L198.2,93.5 L198.8,93.0 L199.0,92.5 L199.0,92.0 L198.8,91.5 L198.8,91.0 L198.5,90.5 L198.5,90.0 L198.2,89.8 L197.8,89.5 L197.2,89.5 L196.8,89.5 L196.2,89.2 L195.8,89.2 L195.2,89.0ZM174.2,63.5 L173.8,63.8 L173.2,63.8 L172.8,63.8 L172.2,64.0 L171.8,64.0 L171.2,64.0 L170.8,64.0 L170.2,64.5 L169.8,65.0 L169.5,65.5 L169.0,66.0 L169.0,66.5 L169.0,67.0 L169.2,67.5 L169.5,68.0 L170.0,68.5 L170.5,68.8 L171.0,69.0 L171.5,69.2 L172.0,69.5 L172.5,70.0 L173.0,70.5 L173.2,71.0 L173.2,71.5 L173.5,72.0 L173.8,72.5 L173.8,73.0 L173.5,73.5 L173.2,74.0 L173.2,74.5 L173.0,75.0 L172.5,75.5 L172.0,76.0 L171.5,76.2 L171.0,76.5 L170.5,76.8 L170.0,76.8 L169.5,77.0 L169.0,76.8 L168.5,76.8 L168.0,76.5 L167.8,77.0 L167.8,77.5 L167.5,78.0 L167.8,78.5 L168.0,79.0 L168.0,79.5 L168.2,80.0 L168.5,80.5 L168.8,81.0 L168.8,81.5 L169.0,82.0 L169.5,82.2 L170.0,82.8 L170.5,83.0 L171.0,83.5 L171.5,83.8 L172.0,84.2 L172.5,84.5 L173.0,84.8 L173.5,84.8 L174.0,84.8 L174.5,84.8 L175.0,85.0 L175.5,85.0 L176.0,85.0 L176.5,85.2 L177.0,85.2 L177.5,85.0 L178.0,84.8 L178.5,84.8 L179.0,84.5 L179.5,84.2 L180.0,84.2 L180.5,84.0 L181.0,83.8 L181.5,83.2 L182.0,82.8 L182.5,82.2 L183.0,81.8 L183.5,81.2 L184.0,80.8 L184.5,80.2 L184.8,79.8 L185.0,79.2 L185.2,78.8 L185.5,78.2 L185.8,77.8 L186.0,77.2 L186.2,76.8 L186.2,76.2 L186.2,75.8 L186.2,75.2 L186.2,74.8 L186.2,74.2 L186.2,73.8 L186.2,73.2 L186.0,72.8 L185.5,72.2 L185.2,71.8 L184.8,71.2 L184.2,70.8 L183.8,70.2 L183.2,70.0 L182.8,69.8 L182.2,69.2 L181.8,69.0 L181.2,68.5 L180.8,68.2 L180.2,67.8 L180.0,67.2 L179.8,66.8 L179.2,66.2 L179.0,65.8 L178.5,65.2 L178.2,65.0 L177.8,64.8 L177.2,64.5 L176.8,64.5 L176.2,64.2 L175.8,64.0 L175.2,63.8 L174.8,63.8ZM178.5,68.2 L179.0,68.0 L179.5,68.2 L180.0,68.2 L180.5,68.5 L181.0,68.8 L181.5,69.0 L182.0,69.5 L182.2,70.0 L182.5,70.5 L182.8,71.0 L182.8,71.5 L183.0,72.0 L182.8,72.5 L182.8,73.0 L182.5,73.5 L182.2,74.0 L182.0,74.5 L181.5,75.0 L181.0,75.2 L180.5,75.5 L180.0,75.8 L179.5,75.8 L179.0,76.0 L178.5,75.8 L178.0,75.8 L177.5,75.5 L177.0,75.2 L176.5,75.0 L176.0,74.5 L175.8,74.0 L175.5,73.5 L175.2,73.0 L175.2,72.5 L175.0,72.0 L175.2,71.5 L175.2,71.0 L175.5,70.5 L175.8,70.0 L176.0,69.5 L176.5,69.0 L177.0,68.8 L177.5,68.5 L178.0,68.2Z" fill-rule="evenodd"/><circle cx="101.4" cy="144.1" r="2.97"/><circle cx="98.4" cy="146.1" r="2.99"/><circle cx="100.8" cy="148.5" r="3.03"/><circle cx="101.6" cy="153.0" r="3.07"/><circle cx="99.0" cy="155.0" r="3.13"/><circle cx="100.2" cy="158.2" r="2.95"/><circle cx="105.1" cy="159.0" r="3.10"/><circle cx="109.5" cy="158.0" r="3.08"/><circle cx="113.2" cy="155.8" r="3.17"/><circle cx="116.0" cy="154.0" r="3.10"/><circle cx="118.8" cy="150.2" r="3.02"/><circle cx="118.3" cy="146.8" r="3.12"/><circle cx="113.4" cy="144.9" r="3.23"/><circle cx="110.6" cy="144.4" r="3.14"/><circle cx="106.7" cy="144.8" r="2.97"/><circle cx="194.7" cy="89.0" r="3.21"/><circle cx="191.4" cy="89.8" r="3.18"/><circle cx="185.5" cy="90.0" r="3.04"/><circle cx="181.9" cy="91.0" r="3.20"/><circle cx="178.9" cy="92.6" r="3.16"/><circle cx="175.8" cy="96.5" r="3.13"/><circle cx="176.1" cy="100.8" r="3.22"/><circle cx="178.7" cy="104.2" r="3.12"/><circle cx="181.1" cy="105.0" r="3.03"/><circle cx="185.1" cy="105.2" r="3.12"/><circle cx="189.8" cy="103.0" r="2.97"/><circle cx="193.0" cy="100.3" r="3.17"/><circle cx="195.2" cy="97.5" r="3.10"/><circle cx="197.5" cy="94.5" r="3.17"/><circle cx="198.8" cy="91.0" r="3.24"/><circle cx="173.7" cy="63.8" r="3.14"/><circle cx="170.6" cy="64.1" r="3.22"/><circle cx="170.1" cy="68.6" r="2.99"/><circle cx="173.1" cy="70.8" r="3.20"/><circle cx="173.2" cy="74.5" r="3.16"/><circle cx="170.5" cy="76.8" r="3.23"/><circle cx="167.9" cy="78.9" r="3.06"/><circle cx="169.3" cy="82.2" r="3.08"/><circle cx="171.6" cy="83.9" r="3.05"/><circle cx="175.5" cy="85.0" r="3.22"/><circle cx="181.0" cy="83.8" r="2.99"/><circle cx="183.5" cy="81.2" r="3.07"/><circle cx="185.3" cy="78.7" r="3.04"/><circle cx="186.2" cy="74.4" r="3.17"/><circle cx="184.7" cy="71.2" r="3.01"/><circle cx="180.6" cy="68.1" r="2.96"/><circle cx="177.8" cy="64.8" r="3.13"/><circle cx="179.1" cy="68.0" r="3.01"/><circle cx="181.8" cy="69.3" r="3.11"/><circle cx="182.8" cy="73.0" r="3.13"/><circle cx="180.0" cy="75.7" r="3.16"/><circle cx="175.6" cy="73.9" r="3.19"/><circle cx="175.8" cy="69.7" r="3.11"/></g>
<g fill="#7ad151"><path d="M145.5,110.2 L145.0,110.5 L144.5,110.5 L144.0,110.8 L143.5,110.8 L143.0,111.0 L142.5,111.2 L142.0,111.2 L141.5,111.5 L141.0,111.5 L140.5,111.8 L140.0,112.2 L139.5,112.5 L139.0,112.8 L138.5,113.0 L138.0,113.2 L137.5,113.8 L137.0,114.0 L136.8,114.2 L136.5,114.8 L136.2,115.2 L136.0,115.8 L136.0,116.2 L135.8,116.8 L135.2,117.2 L134.8,117.5 L134.2,117.5 L133.8,117.8 L133.2,117.8 L132.8,117.5 L132.2,117.2 L131.8,117.0 L131.2,117.0 L130.8,117.2 L130.2,117.5 L129.8,117.8 L129.2,118.0 L128.8,118.2 L128.2,118.2 L127.8,118.5 L127.2,118.8 L126.8,119.0 L126.2,119.2 L125.8,119.5 L125.2,119.8 L125.0,120.2 L124.8,120.8 L124.2,121.2 L124.0,121.8 L123.5,122.2 L123.2,122.8 L123.0,123.2 L122.5,123.8 L122.0,124.0 L121.5,124.2 L121.0,124.5 L120.5,125.0 L120.0,125.2 L119.5,125.5 L119.0,125.8 L118.5,126.0 L118.0,126.2 L117.5,126.5 L117.0,126.8 L116.5,127.0 L116.0,127.2 L115.5,127.5 L115.0,127.5 L114.5,127.8 L114.0,128.0 L113.5,128.2 L113.0,128.2 L112.8,128.8 L112.5,129.2 L112.2,129.8 L111.8,130.2 L111.5,130.8 L111.5,131.2 L111.8,131.8 L112.0,132.2 L112.0,132.8 L112.2,133.2 L112.5,133.8 L113.0,134.2 L113.5,134.8 L114.0,135.2 L114.5,135.8 L115.0,136.2 L115.5,136.8 L116.0,137.2 L116.5,137.8 L117.0,138.0 L117.5,138.5 L118.0,139.0 L118.5,139.2 L119.0,139.8 L119.5,140.2 L120.0,140.5 L120.5,140.8 L121.0,140.8 L121.5,140.8 L122.0,141.0 L122.5,141.0 L123.0,141.0 L123.5,141.2 L124.0,141.2 L124.5,141.5 L125.0,141.8 L125.5,142.0 L125.8,142.5 L126.0,143.0 L126.2,143.5 L126.8,144.0 L127.0,144.5 L127.2,145.0 L127.5,145.5 L127.8,146.0 L128.2,146.2 L128.8,146.5 L129.2,146.5 L129.8,146.5 L130.2,146.8 L130.8,146.8 L131.2,146.2 L131.5,145.8 L132.0,145.2 L132.5,144.8 L133.0,144.2 L133.5,143.8 L133.8,143.2 L134.0,142.8 L134.2,142.2 L134.5,141.8 L134.8,141.2 L135.0,140.8 L135.2,140.2 L135.5,139.8 L135.5,139.2 L135.5,138.8 L135.5,138.2 L135.2,137.8 L135.2,137.2 L135.0,136.8 L135.0,136.2 L134.5,135.8 L134.2,135.2 L133.8,134.8 L133.2,134.2 L133.0,133.8 L132.5,133.2 L132.0,132.8 L131.8,132.2 L131.5,131.8 L131.2,131.2 L131.0,130.8 L131.0,130.2 L131.0,129.8 L131.0,129.2 L131.0,128.8 L131.0,128.2 L131.0,127.8 L131.0,127.2 L131.0,126.8 L131.0,126.2 L131.0,125.8 L131.0,125.2 L131.0,124.8 L131.0,124.2 L131.2,123.8 L131.5,123.2 L131.8,122.8 L132.0,122.2 L132.2,121.8 L132.8,121.2 L133.2,121.0 L133.8,121.0 L134.2,120.8 L134.8,121.0 L135.2,121.0 L135.8,121.2 L136.2,121.8 L136.5,122.2 L136.5,122.8 L136.8,123.2 L137.0,123.8 L137.0,124.2 L137.2,124.8 L137.2,125.2 L137.5,125.8 L137.8,126.2 L137.8,126.8 L138.0,127.2 L138.5,127.5 L139.0,128.0 L139.5,128.2 L140.0,128.8 L140.5,129.0 L141.0,129.5 L141.5,130.0 L142.0,130.2 L142.5,130.2 L143.0,130.2 L143.5,130.5 L144.0,130.5 L144.5,130.5 L145.0,130.8 L145.5,130.8 L146.0,130.8 L146.5,130.8 L147.0,130.5 L147.5,130.2 L148.0,130.0 L148.5,129.8 L149.0,129.5 L149.5,129.2 L150.0,129.0 L150.5,128.8 L150.8,128.2 L151.0,127.8 L151.2,127.2 L151.5,126.8 L151.8,126.2 L152.0,125.8 L152.2,125.2 L152.5,124.8 L152.8,124.2 L152.8,123.8 L152.8,123.2 L152.8,122.8 L152.8,122.2 L152.8,121.8 L152.8,121.2 L152.8,120.8 L152.8,120.2 L152.8,119.8 L152.8,119.2 L152.8,118.8 L152.8,118.2 L152.8,117.8 L152.8,117.2 L152.8,116.8 L153.0,116.2 L153.0,115.8 L153.0,115.2 L153.0,114.8 L153.0,114.2 L153.0,113.8 L153.0,113.2 L152.5,112.8 L152.0,112.2 L151.5,112.0 L151.0,111.5 L150.5,111.0 L150.0,110.8 L149.5,110.5 L149.0,110.5 L148.5,110.5 L148.0,110.5 L147.5,110.5 L147.0,110.5 L146.5,110.2 L146.0,110.2ZM121.5,128.2 L122.0,128.0 L122.5,128.2 L123.0,128.2 L123.5,128.5 L124.0,128.8 L124.5,129.0 L125.0,129.5 L125.5,130.0 L125.8,130.5 L125.8,131.0 L126.0,131.5 L126.2,132.0 L126.2,132.5 L126.0,133.0 L125.8,133.5 L125.8,134.0 L125.5,134.5 L125.0,135.0 L124.5,135.5 L124.0,135.8 L123.5,136.0 L123.0,136.2 L122.5,136.2 L122.0,136.5 L121.5,136.2 L121.0,136.2 L120.5,136.0 L120.0,135.8 L119.5,135.5 L119.0,135.0 L118.5,134.5 L118.2,134.0 L118.2,133.5 L118.0,133.0 L117.8,132.5 L117.8,132.0 L118.0,131.5 L118.2,131.0 L118.2,130.5 L118.5,130.0 L119.0,129.5 L119.5,129.0 L120.0,128.8 L120.5,128.5 L121.0,128.2ZM154.0,81.8 L153.5,82.2 L153.0,82.8 L152.5,83.0 L152.0,83.5 L151.5,84.0 L151.0,84.2 L150.5,84.8 L150.0,85.0 L149.5,85.5 L149.0,85.8 L148.5,86.2 L148.0,86.5 L147.8,87.0 L147.2,87.5 L147.0,88.0 L146.8,88.5 L146.2,89.0 L146.0,89.5 L145.5,90.0 L145.2,90.5 L145.5,91.0 L145.5,91.5 L145.5,92.0 L145.5,92.5 L145.5,93.0 L145.8,93.5 L146.2,94.0 L146.8,94.5 L147.2,95.0 L147.8,95.5 L148.2,96.0 L148.8,96.2 L149.2,96.2 L149.8,96.5 L150.2,96.5 L150.8,96.5 L151.2,96.8 L151.8,96.8 L152.2,96.8 L152.8,97.0 L153.2,97.0 L153.8,96.8 L154.2,96.8 L154.8,96.8 L155.2,96.5 L155.8,96.5 L156.2,96.2 L156.8,96.2 L157.2,96.2 L157.5,95.8 L158.0,95.2 L158.5,94.8 L158.8,94.2 L159.2,93.8 L159.8,93.2 L160.0,92.8 L160.0,92.2 L160.0,91.8 L159.8,91.2 L159.8,90.8 L159.5,90.2 L159.5,89.8 L159.5,89.2 L159.2,88.8 L159.2,88.2 L159.2,87.8 L159.0,87.2 L159.0,86.8 L159.0,86.2 L158.8,85.8 L158.8,85.2 L158.8,84.8 L158.5,84.2 L158.5,83.8 L158.2,83.2 L157.8,82.8 L157.2,82.5 L156.8,82.0 L156.2,81.8 L155.8,81.8 L155.2,81.8 L154.8,81.8 L154.2,81.8ZM152.5,61.5 L152.0,62.0 L151.5,62.2 L151.0,62.5 L150.5,62.8 L150.2,63.2 L150.2,63.8 L150.2,64.2 L150.0,64.8 L150.0,65.2 L150.0,65.8 L150.0,66.2 L149.8,66.8 L150.0,67.2 L150.2,67.8 L150.5,68.2 L150.8,68.8 L151.0,69.2 L151.2,69.8 L151.8,70.2 L152.2,70.2 L152.8,70.5 L153.2,70.5 L153.8,70.8 L154.2,70.8 L154.8,71.0 L155.2,70.8 L155.8,70.8 L156.2,70.5 L156.8,70.5 L157.2,70.2 L157.8,70.2 L158.0,69.8 L158.2,69.2 L158.5,68.8 L158.5,68.2 L158.8,67.8 L159.0,67.2 L159.2,66.8 L159.0,66.2 L159.0,65.8 L158.8,65.2 L158.8,64.8 L158.5,64.2 L158.2,63.8 L157.8,63.5 L157.2,63.0 L156.8,62.8 L156.2,62.5 L155.8,62.2 L155.2,62.0 L154.8,62.0 L154.2,62.0 L153.8,61.8 L153.2,61.8 L152.8,61.8Z" fill-rule="evenodd"/><circle cx="145.5" cy="110.2" r="3.21"/><circle cx="141.0" cy="111.5" r="3.12"/><circle cx="138.2" cy="113.2" r="3.04"/><circle cx="136.0" cy="115.8" r="3.19"/><circle cx="132.9" cy="117.5" r="3.17"/><circle cx="128.5" cy="118.2" r="3.24"/><circle cx="124.8" cy="120.6" r="3.24"/><circle cx="123.1" cy="122.9" r="3.10"/><circle cx="119.0" cy="125.8" r="3.04"/><circle cx="115.5" cy="127.5" r="3.06"/><circle cx="112.2" cy="129.6" r="2.95"/><circle cx="112.2" cy="133.2" r="3.08"/><circle cx="115.0" cy="136.2" r="3.07"/><circle cx="119.0" cy="139.7" r="3.16"/><circle cx="122.2" cy="141.0" r="3.14"/><circle cx="125.8" cy="142.4" r="3.01"/><circle cx="127.5" cy="145.3" r="3.03"/><circle cx="131.7" cy="145.6" r="3.21"/><circle cx="134.5" cy="141.8" r="3.10"/><circle cx="135.2" cy="137.6" r="3.09"/><circle cx="133.3" cy="134.3" r="3.07"/><circle cx="131.2" cy="130.9" r="3.25"/><circle cx="131.0" cy="127.6" r="3.00"/><circle cx="131.7" cy="122.8" r="3.11"/><circle cx="134.5" cy="120.8" r="2.95"/><circle cx="137.0" cy="123.7" r="3.08"/><circle cx="138.4" cy="127.4" r="3.21"/><circle cx="142.1" cy="130.2" r="3.17"/><circle cx="146.8" cy="130.7" r="3.17"/><circle cx="149.7" cy="129.2" r="3.17"/><circle cx="152.1" cy="125.7" r="3.14"/><circle cx="152.8" cy="121.6" r="3.07"/><circle cx="152.8" cy="117.2" r="3.14"/><circle cx="152.4" cy="112.6" r="3.18"/><circle cx="149.0" cy="110.5" r="3.18"/><circle cx="122.1" cy="128.0" r="3.13"/><circle cx="125.0" cy="129.5" r="3.03"/><circle cx="125.6" cy="134.2" r="3.21"/><circle cx="122.4" cy="136.3" r="3.00"/><circle cx="118.4" cy="134.1" r="3.10"/><circle cx="118.2" cy="130.8" r="2.96"/><circle cx="154.0" cy="81.8" r="3.17"/><circle cx="150.8" cy="84.4" r="3.06"/><circle cx="147.2" cy="87.5" r="2.96"/><circle cx="145.5" cy="90.8" r="3.23"/><circle cx="147.2" cy="94.9" r="3.07"/><circle cx="151.0" cy="96.5" r="3.13"/><circle cx="154.1" cy="96.8" r="3.01"/><circle cx="158.8" cy="94.2" r="3.03"/><circle cx="160.0" cy="92.1" r="3.20"/><circle cx="159.0" cy="87.0" r="3.06"/><circle cx="158.0" cy="83.0" r="3.17"/><circle cx="153.2" cy="61.8" r="3.15"/><circle cx="150.0" cy="65.1" r="3.19"/><circle cx="150.5" cy="68.2" r="3.13"/><circle cx="153.6" cy="70.6" r="3.12"/><circle cx="157.5" cy="70.2" r="3.19"/><circle cx="158.8" cy="65.2" r="3.05"/><circle cx="157.1" cy="63.0" r="3.24"/></g>
<g fill="#fde725"><path d="M109.0,87.8 L108.5,88.0 L108.0,88.0 L107.5,88.0 L107.0,88.0 L106.5,88.0 L106.0,88.0 L105.5,88.2 L105.0,88.2 L104.5,88.2 L104.0,88.5 L103.5,88.8 L103.0,89.0 L102.5,89.0 L102.0,89.2 L101.5,89.5 L101.0,89.8 L100.5,90.2 L100.0,90.8 L99.5,91.2 L99.0,91.8 L98.5,92.0 L98.0,92.5 L97.5,93.0 L97.0,93.5 L96.5,94.0 L96.2,94.5 L96.0,95.0 L95.8,95.5 L95.5,96.0 L95.2,96.5 L95.0,97.0 L94.8,97.5 L94.8,98.0 L94.8,98.5 L95.0,99.0 L95.0,99.5 L95.0,100.0 L95.2,100.5 L95.2,101.0 L95.5,101.5 L96.0,102.0 L96.2,102.5 L96.5,103.0 L96.8,103.5 L97.2,104.0 L97.5,104.5 L97.8,105.0 L98.0,105.5 L98.0,106.0 L98.2,106.5 L98.2,107.0 L98.2,107.5 L98.2,108.0 L98.2,108.5 L98.2,109.0 L98.2,109.5 L98.2,110.0 L98.2,110.5 L98.2,111.0 L98.2,111.5 L98.2,112.0 L98.2,112.5 L98.5,113.0 L98.8,113.5 L99.0,114.0 L99.2,114.5 L99.5,115.0 L99.8,115.5 L100.0,116.0 L100.5,116.5 L101.0,116.8 L101.5,117.0 L102.0,117.0 L102.5,117.2 L103.0,117.5 L103.5,117.8 L104.0,118.0 L104.5,118.2 L105.0,118.5 L105.5,118.5 L106.0,118.5 L106.5,118.8 L107.0,118.8 L107.5,118.8 L108.0,118.8 L108.5,119.0 L109.0,119.0 L109.5,119.0 L110.0,119.0 L110.5,119.2 L111.0,119.2 L111.5,119.0 L112.0,118.8 L112.5,118.8 L113.0,118.5 L113.5,118.2 L114.0,118.2 L114.5,118.0 L115.0,117.8 L115.5,117.5 L116.0,117.2 L116.5,117.0 L117.0,116.8 L117.5,116.2 L118.0,116.0 L118.5,115.8 L119.0,115.5 L119.2,115.0 L119.2,114.5 L119.5,114.0 L119.8,113.5 L120.0,113.0 L120.2,112.5 L120.5,112.0 L120.8,111.5 L121.0,111.0 L121.5,110.8 L122.0,110.5 L122.5,110.2 L123.0,110.0 L123.5,109.8 L124.0,109.5 L124.5,109.2 L125.0,109.0 L125.5,108.8 L126.0,108.5 L126.5,108.0 L127.0,107.5 L127.5,107.0 L128.0,106.5 L128.5,106.0 L129.0,105.5 L129.5,105.0 L129.5,104.5 L129.8,104.0 L130.0,103.5 L130.0,103.0 L130.2,102.5 L130.5,102.0 L130.5,101.5 L130.2,101.0 L130.0,100.5 L129.8,100.0 L129.5,99.5 L129.2,99.0 L129.0,98.5 L128.5,98.2 L128.0,98.0 L127.5,97.8 L127.0,97.5 L126.5,97.2 L126.0,97.0 L125.5,96.8 L125.0,96.5 L124.5,96.2 L124.0,96.0 L123.5,96.0 L123.0,95.8 L122.5,95.5 L122.0,95.5 L121.5,95.2 L121.0,95.2 L120.5,95.0 L120.0,94.8 L119.5,94.8 L119.0,94.5 L118.5,94.5 L118.0,94.5 L117.5,94.5 L117.0,94.5 L116.5,94.5 L116.0,94.5 L115.5,94.5 L115.0,94.5 L114.5,94.5 L114.0,94.2 L113.5,94.0 L113.0,93.8 L112.5,93.2 L112.0,92.8 L111.8,92.2 L111.5,91.8 L111.5,91.2 L111.2,90.8 L111.0,90.2 L111.0,89.8 L110.8,89.2 L110.2,88.8 L109.8,88.5 L109.2,88.0ZM112.2,99.2 L112.8,99.0 L113.2,99.2 L113.8,99.2 L114.2,99.5 L114.8,99.8 L115.2,100.0 L115.8,100.2 L116.2,100.8 L116.5,101.2 L116.8,101.8 L116.8,102.2 L117.0,102.8 L117.2,103.2 L117.2,103.8 L117.0,104.2 L116.8,104.8 L116.8,105.2 L116.5,105.8 L116.2,106.2 L115.8,106.8 L115.2,107.0 L114.8,107.2 L114.2,107.5 L113.8,107.8 L113.2,107.8 L112.8,108.0 L112.2,107.8 L111.8,107.8 L111.2,107.5 L110.8,107.2 L110.2,107.0 L109.8,106.8 L109.2,106.2 L109.0,105.8 L108.8,105.2 L108.8,104.8 L108.5,104.2 L108.2,103.8 L108.2,103.2 L108.5,102.8 L108.8,102.2 L108.8,101.8 L109.0,101.2 L109.2,100.8 L109.8,100.2 L110.2,100.0 L110.8,99.8 L111.2,99.5 L111.8,99.2ZM104.0,92.5 L104.5,92.2 L105.0,92.5 L105.5,92.5 L106.0,92.8 L106.5,92.8 L107.0,93.0 L107.5,93.5 L108.0,94.0 L108.5,94.5 L108.8,95.0 L108.8,95.5 L109.0,96.0 L109.0,96.5 L109.2,97.0 L109.0,97.5 L109.0,98.0 L108.8,98.5 L108.8,99.0 L108.5,99.5 L108.0,100.0 L107.5,100.5 L107.0,101.0 L106.5,101.2 L106.0,101.2 L105.5,101.5 L105.0,101.5 L104.5,101.8 L104.0,101.5 L103.5,101.5 L103.0,101.2 L102.5,101.2 L102.0,101.0 L101.5,100.5 L101.0,100.0 L100.5,99.5 L100.2,99.0 L100.2,98.5 L100.0,98.0 L100.0,97.5 L99.8,97.0 L100.0,96.5 L100.0,96.0 L100.2,95.5 L100.2,95.0 L100.5,94.5 L101.0,94.0 L101.5,93.5 L102.0,93.0 L102.5,92.8 L103.0,92.8 L103.5,92.5ZM127.2,73.8 L126.8,74.2 L126.2,74.5 L125.8,75.0 L125.2,75.5 L124.8,75.8 L124.2,76.0 L123.8,76.2 L123.2,76.5 L122.8,76.8 L122.2,77.0 L121.8,77.2 L121.2,77.5 L120.8,77.8 L120.5,78.2 L120.2,78.8 L120.0,79.2 L119.8,79.8 L119.5,80.2 L119.5,80.8 L119.5,81.2 L119.5,81.8 L120.0,82.0 L120.5,82.2 L121.0,82.2 L121.5,82.5 L122.0,82.5 L122.5,82.8 L123.0,82.8 L123.5,83.0 L124.0,83.2 L124.5,83.5 L125.0,83.8 L125.5,84.0 L126.0,84.2 L126.5,84.8 L127.0,85.2 L127.2,85.8 L127.5,86.2 L127.8,86.8 L128.0,87.2 L128.2,87.8 L128.5,88.2 L128.8,88.8 L129.0,89.2 L129.5,89.5 L130.0,89.5 L130.5,89.8 L131.0,89.8 L131.5,90.0 L132.0,90.2 L132.5,90.0 L133.0,90.0 L133.5,89.8 L134.0,89.8 L134.5,89.5 L135.0,89.2 L135.5,89.2 L136.0,89.0 L136.5,88.5 L136.8,88.0 L137.0,87.5 L137.2,87.0 L137.8,86.5 L138.0,86.0 L138.2,85.5 L138.2,85.0 L138.2,84.5 L138.2,84.0 L138.2,83.5 L138.2,83.0 L138.2,82.5 L137.8,82.0 L137.2,81.5 L136.8,81.0 L136.5,80.5 L136.0,80.0 L135.5,79.5 L135.0,79.2 L134.5,79.0 L134.0,78.8 L133.5,78.8 L133.0,78.5 L132.5,78.2 L132.0,78.0 L131.5,77.8 L131.0,77.5 L130.8,77.0 L130.5,76.5 L130.2,76.0 L129.8,75.5 L129.5,75.0 L129.2,74.5 L129.0,74.0 L128.5,74.0 L128.0,73.8 L127.5,73.8ZM138.8,63.8 L138.2,64.0 L137.8,64.2 L137.2,64.5 L136.8,64.8 L136.2,65.0 L135.8,65.2 L135.5,65.8 L135.2,66.2 L135.0,66.8 L134.8,67.2 L134.2,67.8 L134.2,68.2 L134.2,68.8 L134.2,69.2 L134.8,69.8 L135.2,70.2 L135.8,70.5 L136.2,71.0 L136.8,71.2 L137.2,71.5 L137.8,71.8 L138.2,71.8 L138.8,72.0 L139.2,72.2 L139.8,72.0 L140.2,72.0 L140.8,71.8 L141.2,71.8 L141.8,71.5 L142.2,71.5 L142.8,71.2 L143.0,70.8 L143.5,70.2 L144.0,69.8 L144.5,69.2 L144.8,68.8 L144.8,68.2 L144.8,67.8 L144.8,67.2 L144.8,66.8 L144.8,66.2 L144.5,65.8 L144.0,65.2 L143.5,64.8 L143.0,64.2 L142.5,64.0 L142.0,64.0 L141.5,64.0 L141.0,64.0 L140.5,63.8 L140.0,63.8 L139.5,63.8 L139.0,63.8Z" fill-rule="evenodd"/><circle cx="108.6" cy="88.0" r="3.20"/><circle cx="105.8" cy="88.2" r="3.22"/><circle cx="100.7" cy="90.0" r="3.04"/><circle cx="97.8" cy="92.7" r="3.18"/><circle cx="95.2" cy="96.8" r="3.01"/><circle cx="95.2" cy="100.6" r="3.00"/><circle cx="97.6" cy="104.8" r="3.08"/><circle cx="98.2" cy="108.9" r="3.17"/><circle cx="98.4" cy="112.6" r="3.03"/><circle cx="100.2" cy="116.2" r="2.99"/><circle cx="103.1" cy="117.6" r="3.16"/><circle cx="107.6" cy="118.8" r="3.18"/><circle cx="111.5" cy="119.0" r="3.17"/><circle cx="116.2" cy="117.0" r="3.04"/><circle cx="118.7" cy="115.6" r="3.07"/><circle cx="120.8" cy="111.2" r="2.98"/><circle cx="123.8" cy="109.5" r="2.97"/><circle cx="128.0" cy="106.5" r="3.22"/><circle cx="129.8" cy="103.7" r="2.96"/><circle cx="129.2" cy="99.0" r="3.19"/><circle cx="125.3" cy="96.6" r="3.13"/><circle cx="122.6" cy="95.6" r="3.20"/><circle cx="119.1" cy="94.6" r="3.16"/><circle cx="114.7" cy="94.5" r="3.07"/><circle cx="111.4" cy="91.1" r="3.06"/><circle cx="111.6" cy="99.4" r="3.02"/><circle cx="116.2" cy="100.8" r="3.09"/><circle cx="117.0" cy="104.0" r="3.01"/><circle cx="114.7" cy="107.3" r="3.05"/><circle cx="111.3" cy="107.5" r="3.22"/><circle cx="108.5" cy="104.0" r="2.96"/><circle cx="109.3" cy="100.7" r="3.21"/><circle cx="103.6" cy="92.5" r="3.06"/><circle cx="107.8" cy="93.8" r="3.23"/><circle cx="109.2" cy="97.3" r="3.21"/><circle cx="106.5" cy="101.2" r="3.00"/><circle cx="102.3" cy="101.0" r="2.95"/><circle cx="100.5" cy="99.2" r="3.15"/><circle cx="100.2" cy="95.5" r="3.06"/><circle cx="128.1" cy="73.8" r="3.09"/><circle cx="123.2" cy="76.5" r="3.22"/><circle cx="121.0" cy="77.5" r="2.97"/><circle cx="120.6" cy="82.2" r="2.96"/><circle cx="123.5" cy="83.0" r="2.99"/><circle cx="126.7" cy="84.9" r="2.96"/><circle cx="129.3" cy="89.3" r="3.17"/><circle cx="133.3" cy="89.8" r="3.20"/><circle cx="136.8" cy="88.0" r="3.07"/><circle cx="138.2" cy="84.2" r="3.24"/><circle cx="136.5" cy="80.5" r="3.02"/><circle cx="134.1" cy="78.8" r="3.23"/><circle cx="130.1" cy="75.9" r="3.05"/><circle cx="138.6" cy="63.9" r="3.12"/><circle cx="135.5" cy="66.0" r="2.97"/><circle cx="134.5" cy="69.5" r="3.07"/><circle cx="137.8" cy="71.8" r="3.21"/><circle cx="142.2" cy="71.5" r="3.15"/><circle cx="144.8" cy="67.6" r="3.17"/><circle cx="142.6" cy="64.0" r="3.18"/></g>
<circle cx="386.5" cy="43" r="2.95" fill="#21918c"/>
<circle cx="393.5" cy="42.5" r="2.95" fill="#28ae80"/>
<g fill="#440154"><circle cx="402.3" cy="44.3" r="3.31"/><circle cx="406.0" cy="43.5" r="3.43"/><circle cx="410.0" cy="43.4" r="3.42"/><circle cx="413.9" cy="43.9" r="3.44"/><circle cx="418.9" cy="43.6" r="3.39"/><circle cx="421.9" cy="43.2" r="3.39"/><circle cx="426.4" cy="43.3" r="3.48"/></g>
<g fill="#21918c"><path d="M374.8,51.8 L374.2,52.0 L374.0,52.5 L374.2,53.0 L374.8,53.2 L375.2,53.2 L375.8,53.2 L376.2,53.2 L376.8,53.0 L377.0,52.5 L376.8,52.0 L376.2,51.8 L375.8,51.8 L375.2,51.8Z"/><circle cx="374.0" cy="52.3" r="2.92"/><circle cx="377.0" cy="52.6" r="2.98"/></g>
<circle cx="401.9" cy="54.6" r="2.95" fill="#21918c"/>
<g fill="#472d7b"><circle cx="411.1" cy="55.1" r="3.01"/><circle cx="415.0" cy="56.8" r="2.86"/><circle cx="418.5" cy="57.3" r="3.03"/><circle cx="421.8" cy="57.5" r="2.90"/></g>
<g fill="#472d7b"><circle cx="413.2" cy="59.2" r="2.95"/><circle cx="416.0" cy="59.6" r="2.94"/><circle cx="420.2" cy="59.9" r="3.00"/></g>
<g fill="#addc30"><circle cx="381.9" cy="54.8" r="3.08"/><circle cx="385.2" cy="52.9" r="2.96"/><circle cx="389.1" cy="52.8" r="2.96"/><circle cx="392.6" cy="54.6" r="2.97"/><circle cx="394.7" cy="58.0" r="3.07"/><circle cx="394.8" cy="61.4" r="3.12"/><circle cx="391.9" cy="64.8" r="2.97"/></g>
<g fill="#fde725"><circle cx="367.8" cy="62.3" r="3.23"/><circle cx="367.8" cy="66.5" r="3.40"/><circle cx="370.7" cy="68.8" r="3.29"/><circle cx="374.7" cy="69.5" r="3.22"/><circle cx="377.6" cy="66.5" r="3.28"/><circle cx="376.0" cy="61.8" r="3.25"/><circle cx="372.3" cy="60.7" r="3.32"/></g>
<g fill="#fde725"><circle cx="381.0" cy="60.9" r="2.98"/><circle cx="384.0" cy="58.0" r="3.13"/><circle cx="388.1" cy="58.2" r="2.96"/><circle cx="388.7" cy="62.3" r="3.10"/><circle cx="385.1" cy="64.6" r="3.05"/><circle cx="383.1" cy="69.2" r="3.03"/><circle cx="387.1" cy="69.8" r="3.01"/></g>
<g fill="#3b528b"><circle cx="386.0" cy="72.0" r="2.82"/><circle cx="389.7" cy="71.3" r="2.83"/><circle cx="391.8" cy="68.0" r="2.77"/></g>
<circle cx="397" cy="73" r="2.95" fill="#28ae80"/>
<circle cx="400" cy="65.4" r="2.95" fill="#5ec962"/>
<circle cx="407.8" cy="70.4" r="2.95" fill="#21918c"/>
<circle cx="417.7" cy="66.4" r="2.95" fill="#addc30"/>
<g fill="#28ae80"><circle cx="425.9" cy="64.1" r="3.00"/><circle cx="429.8" cy="62.0" r="3.03"/><circle cx="434.4" cy="60.6" r="2.90"/><circle cx="438.5" cy="58.8" r="2.90"/><circle cx="442.8" cy="57.8" r="3.02"/></g>
<g fill="#472d7b"><circle cx="358.5" cy="67.4" r="2.93"/><circle cx="355.1" cy="70.9" r="2.90"/><circle cx="351.6" cy="74.5" r="2.92"/><circle cx="348.6" cy="78.3" r="2.91"/></g>
<circle cx="397" cy="73.3" r="2.95" fill="#5ec962"/>
<circle cx="419.6" cy="74.3" r="2.95" fill="#fde725"/>
<g fill="#addc30"><circle cx="428.5" cy="49.9" r="2.95"/><circle cx="433.2" cy="50.0" r="2.91"/><circle cx="437.8" cy="49.6" r="2.92"/><circle cx="443.0" cy="49.5" r="2.92"/></g>
<circle cx="432.9" cy="50.7" r="2.95" fill="#fde725"/>
<g fill="#5ec962"><circle cx="424.2" cy="66.5" r="2.98"/><circle cx="427.4" cy="64.1" r="3.01"/><circle cx="431.0" cy="61.4" r="2.85"/><circle cx="434.7" cy="59.6" r="3.01"/><circle cx="438.4" cy="59.0" r="3.05"/><circle cx="443.2" cy="59.1" r="2.86"/><circle cx="446.8" cy="59.0" r="3.04"/><circle cx="450.9" cy="59.3" r="3.01"/></g>
<g fill="#28ae80"><circle cx="441.5" cy="62.3" r="2.85"/><circle cx="444.8" cy="64.3" r="2.98"/><circle cx="448.1" cy="66.4" r="3.04"/><circle cx="451.0" cy="69.3" r="2.99"/><circle cx="454.6" cy="71.3" r="3.03"/><circle cx="457.0" cy="74.2" r="2.89"/></g>
<circle cx="457" cy="77" r="2.95" fill="#3b528b"/>
<g fill="#fde725"><circle cx="438.3" cy="64.6" r="2.89"/><circle cx="438.7" cy="69.4" r="2.87"/><circle cx="436.9" cy="73.3" r="2.99"/><circle cx="438.4" cy="75.6" r="3.05"/><circle cx="442.5" cy="76.5" r="3.00"/><circle cx="447.0" cy="77.9" r="3.04"/></g>
<g fill="#fde725"><circle cx="430.9" cy="76.3" r="3.02"/><circle cx="433.8" cy="80.2" r="2.98"/></g>
<g fill="#472d7b"><circle cx="357.9" cy="74.3" r="2.89"/><circle cx="354.2" cy="77.3" r="3.00"/><circle cx="351.5" cy="79.5" r="2.98"/><circle cx="348.2" cy="82.6" r="2.93"/></g>
<circle cx="365.6" cy="78.4" r="2.95" fill="#5ec962"/>
<circle cx="367.2" cy="81" r="2.95" fill="#fde725"/>
<g fill="#21918c"><circle cx="357.3" cy="84.4" r="3.02"/><circle cx="360.1" cy="87.0" r="2.93"/><circle cx="363.7" cy="89.2" r="2.94"/></g>
<circle cx="363.5" cy="89.5" r="2.95" fill="#5ec962"/>
<g fill="#472d7b"><path d="M386.8,78.5 L386.5,79.0 L386.8,79.5 L387.0,80.0 L387.5,80.2 L388.0,80.8 L388.5,81.0 L389.0,81.5 L389.5,81.8 L390.0,82.2 L390.5,82.5 L390.8,83.0 L391.2,83.2 L391.8,83.8 L392.2,84.0 L392.8,84.5 L393.2,85.0 L393.8,85.2 L394.2,85.8 L394.8,86.0 L395.2,86.5 L395.8,86.8 L396.2,87.2 L396.8,87.5 L397.2,87.8 L397.8,88.0 L398.2,88.0 L398.5,87.5 L398.2,87.0 L398.0,86.5 L397.5,86.2 L397.0,85.8 L396.5,85.5 L396.0,85.0 L395.5,84.5 L395.0,84.0 L394.5,83.8 L394.0,83.2 L393.5,82.8 L393.0,82.5 L392.5,82.0 L392.0,81.5 L391.5,81.2 L391.0,81.0 L390.5,80.5 L390.0,80.2 L389.5,79.8 L389.0,79.5 L388.5,79.0 L388.0,78.8 L387.5,78.5 L387.0,78.5Z"/><circle cx="387.3" cy="78.5" r="2.92"/><circle cx="389.0" cy="81.5" r="2.86"/><circle cx="391.3" cy="83.3" r="2.89"/><circle cx="395.2" cy="86.4" r="2.87"/><circle cx="398.5" cy="87.7" r="2.99"/><circle cx="396.7" cy="85.5" r="2.96"/><circle cx="393.2" cy="82.7" r="2.93"/><circle cx="389.5" cy="79.8" r="2.85"/></g>
<g fill="#fde725"><circle cx="375.2" cy="78.2" r="2.91"/><circle cx="380.1" cy="77.3" r="2.99"/></g>
<g fill="#fde725"><circle cx="374.4" cy="84.0" r="3.01"/><circle cx="372.6" cy="87.7" r="3.03"/><circle cx="370.6" cy="91.1" r="2.95"/><circle cx="367.3" cy="94.5" r="3.04"/><circle cx="366.8" cy="97.7" r="2.95"/><circle cx="366.9" cy="100.8" r="2.94"/><circle cx="363.2" cy="103.3" r="2.96"/></g>
<g fill="#fde725"><circle cx="377.0" cy="88.1" r="3.02"/><circle cx="381.7" cy="89.4" r="3.04"/><circle cx="385.0" cy="91.0" r="2.95"/><circle cx="387.1" cy="93.4" r="3.01"/><circle cx="382.6" cy="94.9" r="2.90"/><circle cx="379.0" cy="96.2" r="3.04"/><circle cx="374.7" cy="96.4" r="2.91"/><circle cx="371.8" cy="100.0" r="2.97"/></g>
<g fill="#fde725"><circle cx="370.0" cy="86.2" r="3.00"/><circle cx="373.5" cy="89.9" r="2.96"/><circle cx="377.3" cy="91.5" r="2.90"/><circle cx="381.0" cy="88.8" r="3.00"/><circle cx="384.9" cy="86.3" r="2.85"/></g>
<g fill="#addc30"><circle cx="382.9" cy="96.3" r="3.04"/><circle cx="387.8" cy="99.0" r="2.85"/><circle cx="384.1" cy="101.6" r="2.94"/><circle cx="380.0" cy="104.0" r="2.97"/></g>
<g fill="#21918c"><circle cx="393.1" cy="93.8" r="2.97"/><circle cx="395.2" cy="98.2" r="2.95"/></g>
<g fill="#addc30"><circle cx="339.6" cy="96.5" r="2.99"/><circle cx="339.2" cy="100.6" r="2.92"/></g>
<circle cx="334.5" cy="109" r="2.95" fill="#5ec962"/>
<g fill="#fde725"><circle cx="352.0" cy="101.2" r="3.21"/><circle cx="355.4" cy="103.5" r="3.23"/><circle cx="358.6" cy="105.9" r="3.21"/><circle cx="359.6" cy="108.1" r="3.32"/><circle cx="356.0" cy="108.3" r="3.24"/></g>
<circle cx="351.2" cy="91.6" r="2.95" fill="#fde725"/>
<circle cx="353" cy="93.5" r="2.95" fill="#21918c"/>
<g fill="#fde725"><circle cx="347.5" cy="98.1" r="2.88"/><circle cx="348.3" cy="102.5" r="2.94"/><circle cx="349.9" cy="106.2" r="2.92"/><circle cx="353.5" cy="109.6" r="2.94"/><circle cx="357.0" cy="111.6" r="2.93"/><circle cx="361.0" cy="112.6" r="3.00"/><circle cx="365.6" cy="112.5" r="2.93"/><circle cx="367.7" cy="110.7" r="3.02"/><circle cx="366.3" cy="107.2" r="2.87"/><circle cx="361.9" cy="105.3" r="2.99"/><circle cx="358.9" cy="102.8" r="3.03"/><circle cx="355.9" cy="99.0" r="2.99"/></g>
<g fill="#fde725"><circle cx="351.9" cy="97.5" r="3.02"/><circle cx="355.8" cy="97.3" r="2.86"/></g>
<g fill="#fde725"><circle cx="371.9" cy="104.0" r="2.87"/><circle cx="375.7" cy="106.7" r="2.91"/><circle cx="380.8" cy="107.9" r="3.00"/></g>
<g fill="#addc30"><circle cx="386.2" cy="103.9" r="2.97"/><circle cx="389.3" cy="107.4" r="2.97"/><circle cx="385.3" cy="109.7" r="2.86"/></g>
<g fill="#21918c"><circle cx="365.9" cy="102.0" r="2.94"/><circle cx="368.9" cy="103.5" r="2.93"/></g>
<g fill="#addc30"><circle cx="345.5" cy="115.3" r="2.99"/><circle cx="348.6" cy="118.6" r="3.00"/><circle cx="352.3" cy="121.2" r="2.87"/><circle cx="356.5" cy="121.9" r="3.02"/><circle cx="360.5" cy="121.0" r="2.86"/><circle cx="364.6" cy="119.0" r="2.99"/><circle cx="367.1" cy="121.0" r="3.02"/><circle cx="365.7" cy="123.6" r="2.96"/><circle cx="361.0" cy="123.9" r="2.89"/><circle cx="356.9" cy="124.2" r="2.91"/><circle cx="352.2" cy="123.7" r="2.95"/><circle cx="347.8" cy="122.3" r="2.88"/></g>
<g fill="#21918c"><circle cx="370.7" cy="115.9" r="2.87"/><circle cx="375.6" cy="116.6" r="2.86"/><circle cx="379.8" cy="116.3" r="2.98"/><circle cx="384.2" cy="117.5" r="2.96"/><circle cx="383.6" cy="120.8" r="2.93"/><circle cx="380.8" cy="122.9" r="2.93"/><circle cx="375.8" cy="123.0" r="2.99"/><circle cx="372.2" cy="120.8" r="3.00"/></g>
<circle cx="371" cy="116.7" r="2.95" fill="#5ec962"/>
<circle cx="377.7" cy="123.4" r="2.95" fill="#5ec962"/>
<circle cx="388.7" cy="119.5" r="2.95" fill="#472d7b"/>
<circle cx="385.4" cy="125" r="2.95" fill="#472d7b"/>
<circle cx="389.8" cy="112.3" r="2.95" fill="#2c728e"/>
<circle cx="390" cy="114.5" r="2.95" fill="#472d7b"/>
<g fill="#21918c"><path d="M406.5,80.8 L406.0,81.0 L405.8,81.5 L405.8,82.0 L405.8,82.5 L406.0,83.0 L406.5,83.2 L407.0,83.2 L407.5,83.2 L408.0,83.0 L408.2,82.5 L408.2,82.0 L408.2,81.5 L408.0,81.0 L407.5,80.8 L407.0,80.8Z"/><circle cx="407.5" cy="83.2" r="2.94"/><circle cx="406.6" cy="80.8" r="3.01"/></g>
<circle cx="407" cy="82" r="2.55" fill="#addc30"/>
<circle cx="412.7" cy="79.5" r="2.95" fill="#fde725"/>
<g fill="#addc30"><circle cx="405.8" cy="90.3" r="3.04"/><circle cx="408.9" cy="92.9" r="2.99"/><circle cx="412.6" cy="93.5" r="3.01"/><circle cx="413.8" cy="94.5" r="2.92"/><circle cx="410.4" cy="96.2" r="3.03"/><circle cx="405.8" cy="96.1" r="3.02"/></g>
<g fill="#addc30"><circle cx="403.9" cy="92.0" r="2.90"/><circle cx="408.2" cy="91.2" r="3.03"/><circle cx="412.4" cy="90.7" r="2.89"/><circle cx="415.9" cy="89.8" r="3.01"/></g>
<g fill="#21918c"><path d="M420.0,75.2 L419.8,75.8 L419.5,76.2 L419.5,76.8 L419.2,77.2 L419.2,77.8 L419.5,78.2 L419.5,78.8 L419.5,79.2 L419.5,79.8 L419.5,80.2 L419.5,80.8 L419.5,81.2 L419.8,81.8 L420.0,82.2 L420.0,82.8 L420.2,83.2 L420.5,83.8 L421.0,83.8 L421.5,83.8 L421.8,83.2 L421.8,82.8 L422.0,82.2 L422.0,81.8 L422.0,81.2 L421.8,80.8 L421.8,80.2 L421.8,79.8 L421.8,79.2 L421.8,78.8 L421.8,78.2 L421.8,77.8 L421.5,77.2 L421.5,76.8 L421.5,76.2 L421.2,75.8 L421.0,75.2 L420.5,75.2Z"/><circle cx="419.4" cy="77.1" r="3.02"/><circle cx="419.5" cy="80.7" r="2.91"/><circle cx="421.6" cy="83.6" r="2.95"/><circle cx="421.8" cy="80.3" r="2.93"/><circle cx="421.5" cy="76.4" r="2.87"/></g>
<g fill="#fde725"><circle cx="420.8" cy="75.8" r="3.04"/><circle cx="420.7" cy="79.6" r="2.92"/><circle cx="421.0" cy="82.8" r="3.04"/></g>
<g fill="#fde725"><circle cx="429.0" cy="77.9" r="3.03"/><circle cx="432.8" cy="76.5" r="2.87"/><circle cx="436.8" cy="76.6" r="3.02"/><circle cx="441.5" cy="77.5" r="3.02"/><circle cx="445.0" cy="78.8" r="3.04"/><circle cx="445.9" cy="83.3" r="2.90"/><circle cx="441.6" cy="84.5" r="2.95"/><circle cx="438.0" cy="84.3" r="2.92"/><circle cx="433.8" cy="84.2" r="2.97"/><circle cx="429.9" cy="86.9" r="2.93"/><circle cx="428.0" cy="82.9" r="2.92"/></g>
<g fill="#21918c"><path d="M426.0,88.2 L425.8,88.8 L425.8,89.2 L426.0,89.8 L426.5,89.8 L427.0,89.8 L427.2,89.2 L427.2,88.8 L427.0,88.2 L426.5,88.2Z"/><circle cx="427.1" cy="89.6" r="2.93"/></g>
<g fill="#fde725"><circle cx="427.9" cy="87.9" r="3.02"/><circle cx="432.0" cy="87.0" r="2.96"/></g>
<g fill="#440154"><circle cx="443.7" cy="86.0" r="2.90"/><circle cx="448.2" cy="85.4" r="2.96"/><circle cx="452.0" cy="87.6" r="2.94"/><circle cx="449.9" cy="90.7" r="2.92"/><circle cx="444.8" cy="90.1" r="2.94"/></g>
<circle cx="437.5" cy="96" r="2.95" fill="#2c728e"/>
<circle cx="451.3" cy="98.3" r="2.95" fill="#440154"/>
<circle cx="451.3" cy="75" r="2.95" fill="#5ec962"/>
<g fill="#2c728e"><circle cx="396.2" cy="95.9" r="2.94"/><circle cx="395.8" cy="100.3" r="2.88"/></g>
<g fill="#28ae80"><path d="M452.5,69.2 L452.2,69.8 L452.2,70.2 L452.5,70.8 L452.8,71.2 L453.2,71.8 L453.2,72.2 L453.5,72.8 L453.5,73.2 L453.5,73.8 L453.2,74.2 L453.2,74.8 L453.2,75.2 L453.5,75.8 L454.0,75.8 L454.5,75.8 L455.0,75.2 L455.2,74.8 L455.8,74.2 L456.2,74.0 L456.8,73.5 L456.8,73.0 L456.8,72.5 L456.2,72.0 L455.8,71.5 L455.2,71.0 L454.8,70.5 L454.2,70.0 L453.8,69.5 L453.2,69.2 L452.8,69.2Z"/><circle cx="452.3" cy="70.5" r="2.83"/><circle cx="453.2" cy="74.1" r="3.03"/><circle cx="455.0" cy="75.1" r="2.89"/><circle cx="456.8" cy="73.5" r="2.84"/><circle cx="454.9" cy="70.6" r="2.84"/></g>
<circle cx="452" cy="80" r="2.95" fill="#fde725"/>
<g fill="#440154"><circle cx="451.9" cy="84.0" r="2.96"/><circle cx="455.0" cy="85.5" r="2.95"/><circle cx="456.8" cy="87.8" r="2.90"/></g>
<g fill="#2c728e"><circle cx="462.7" cy="84.0" r="2.87"/><circle cx="467.8" cy="81.9" r="3.03"/></g>
<g fill="#440154"><circle cx="464.3" cy="91.2" r="2.86"/><circle cx="460.0" cy="94.2" r="2.94"/><circle cx="456.0" cy="97.2" r="2.92"/><circle cx="451.2" cy="98.2" r="2.87"/></g>
<g fill="#fde725"><path d="M476.0,90.2 L475.5,90.8 L475.5,91.2 L475.5,91.8 L476.0,92.2 L476.5,92.2 L477.0,92.2 L477.5,91.8 L477.5,91.2 L477.5,90.8 L477.0,90.2 L476.5,90.2Z"/><circle cx="475.6" cy="91.9" r="2.88"/><circle cx="477.5" cy="91.5" r="2.93"/></g>
<circle cx="483.6" cy="93.4" r="2.95" fill="#3b528b"/>
<g fill="#5ec962"><path d="M464.5,102.5 L464.0,103.0 L464.0,103.5 L464.0,104.0 L464.5,104.5 L465.0,104.5 L465.5,104.5 L466.0,104.0 L466.0,103.5 L466.0,103.0 L465.5,102.5 L465.0,102.5Z"/><circle cx="464.4" cy="104.4" r="3.05"/><circle cx="464.8" cy="102.5" r="2.89"/></g>
<g fill="#3b528b"><path d="M453.5,105.2 L453.2,105.8 L452.8,106.2 L452.5,106.8 L452.5,107.2 L452.2,107.8 L452.2,108.2 L452.0,108.8 L452.2,109.2 L452.2,109.8 L452.2,110.2 L452.5,110.8 L453.0,110.8 L453.5,110.8 L453.8,110.2 L454.0,109.8 L454.0,109.2 L454.2,108.8 L454.2,108.2 L454.5,107.8 L454.5,107.2 L454.8,106.8 L454.8,106.2 L454.8,105.8 L454.5,105.2 L454.0,105.2Z"/><circle cx="453.3" cy="105.5" r="2.87"/><circle cx="452.2" cy="108.5" r="3.00"/><circle cx="453.4" cy="110.8" r="2.91"/><circle cx="454.5" cy="107.6" r="3.06"/></g>
<circle cx="452.8" cy="110.5" r="1.3" fill="#addc30"/>
<circle cx="466" cy="111" r="2.95" fill="#3b528b"/>
<circle cx="478.1" cy="111" r="2.95" fill="#5ec962"/>
<g fill="#fde725"><path d="M398.2,106.0 L398.0,106.5 L398.0,107.0 L398.5,107.5 L398.8,108.0 L399.2,108.5 L399.8,109.0 L400.2,109.5 L400.8,109.8 L401.2,110.2 L401.8,110.5 L402.0,111.0 L402.5,111.2 L403.0,111.8 L403.5,112.0 L404.0,112.5 L404.5,112.8 L405.0,113.2 L405.5,113.5 L406.0,114.0 L406.5,114.2 L407.0,114.8 L407.5,115.0 L408.0,115.5 L408.5,115.8 L409.0,116.2 L409.5,116.5 L410.0,116.5 L410.5,116.2 L410.5,115.8 L410.0,115.2 L409.8,114.8 L409.2,114.5 L408.8,114.0 L408.2,113.8 L407.8,113.2 L407.2,113.0 L406.8,112.5 L406.2,112.2 L405.8,111.8 L405.2,111.5 L404.8,111.0 L404.2,110.8 L403.8,110.2 L403.2,110.0 L402.8,109.5 L402.2,109.0 L401.8,108.5 L401.2,108.0 L400.8,107.5 L400.2,107.0 L399.8,106.5 L399.2,106.2 L398.8,106.0Z"/><circle cx="398.8" cy="108.0" r="2.85"/><circle cx="401.1" cy="110.1" r="2.84"/><circle cx="404.2" cy="112.5" r="2.88"/><circle cx="406.7" cy="114.5" r="3.03"/><circle cx="409.4" cy="116.4" r="2.87"/><circle cx="408.8" cy="114.0" r="3.02"/><circle cx="405.6" cy="111.6" r="2.98"/><circle cx="402.2" cy="109.0" r="2.89"/><circle cx="400.0" cy="106.7" r="2.87"/></g>
<g fill="#fde725"><circle cx="400.1" cy="113.2" r="2.86"/><circle cx="403.7" cy="108.3" r="2.91"/></g>
<g fill="#472d7b"><path d="M415.0,106.0 L414.5,106.2 L414.0,106.2 L413.5,106.2 L413.2,106.8 L413.2,107.2 L413.5,107.8 L414.0,108.0 L414.5,108.2 L414.8,108.8 L415.2,109.2 L415.2,109.8 L415.5,110.2 L415.5,110.8 L415.2,111.2 L415.2,111.8 L415.2,112.2 L415.5,112.8 L416.0,112.8 L416.5,112.8 L416.8,112.2 L417.0,111.8 L417.2,111.2 L417.5,110.8 L417.8,110.2 L418.0,109.8 L418.2,109.2 L418.5,108.8 L418.8,108.2 L418.8,107.8 L418.5,107.2 L418.0,107.0 L417.5,106.8 L417.0,106.5 L416.5,106.5 L416.0,106.2 L415.5,106.2Z"/><circle cx="414.1" cy="106.2" r="2.86"/><circle cx="415.2" cy="109.2" r="2.88"/><circle cx="415.2" cy="112.5" r="3.02"/><circle cx="418.0" cy="109.8" r="2.97"/><circle cx="417.7" cy="106.9" r="2.96"/></g>
<g fill="#440154"><path d="M419.2,116.5 L418.8,117.0 L418.5,117.5 L418.5,118.0 L418.5,118.5 L418.8,119.0 L419.2,119.5 L419.8,119.5 L420.2,119.5 L420.8,119.5 L421.2,119.0 L421.5,118.5 L421.5,118.0 L421.5,117.5 L421.2,117.0 L420.8,116.5 L420.2,116.5 L419.8,116.5Z"/><circle cx="418.5" cy="118.3" r="3.03"/><circle cx="421.3" cy="119.0" r="2.83"/><circle cx="420.5" cy="116.5" r="2.95"/></g>
<g fill="#3b528b"><circle cx="419.8" cy="120.8" r="2.87"/><circle cx="419.0" cy="123.9" r="2.77"/></g>
<circle cx="417.5" cy="121" r="1.8" fill="#addc30"/>
<g fill="#28ae80"><circle cx="427.7" cy="104.1" r="3.40"/><circle cx="433.0" cy="104.7" r="3.28"/><circle cx="438.2" cy="105.9" r="3.34"/></g>
<circle cx="427" cy="103" r="1.3" fill="#440154"/>
<g fill="#addc30"><circle cx="438.3" cy="113.8" r="3.34"/><circle cx="437.2" cy="117.4" r="3.35"/><circle cx="435.2" cy="120.6" r="3.32"/><circle cx="432.9" cy="124.0" r="3.39"/></g>
<g fill="#fde725"><circle cx="446.9" cy="105.5" r="2.96"/><circle cx="447.1" cy="108.7" r="3.04"/></g>
<circle cx="446.9" cy="112.9" r="2.95" fill="#21918c"/>
<g fill="#addc30"><circle cx="452.5" cy="110.8" r="2.91"/><circle cx="450.7" cy="115.2" r="3.04"/><circle cx="449.4" cy="119.6" r="2.85"/><circle cx="448.1" cy="123.5" r="2.94"/><circle cx="448.7" cy="128.1" r="2.86"/></g>
<g fill="#2c728e"><circle cx="399.2" cy="122.0" r="3.05"/><circle cx="403.9" cy="121.8" r="2.95"/><circle cx="406.8" cy="124.7" r="2.87"/></g>
<g fill="#3b528b"><circle cx="455.9" cy="110.2" r="2.93"/><circle cx="456.8" cy="116.2" r="3.00"/></g>
<g fill="#472d7b"><circle cx="464.3" cy="114.2" r="3.27"/><circle cx="465.6" cy="119.4" r="3.31"/><circle cx="468.7" cy="123.2" r="3.36"/></g>
<g fill="#5ec962"><circle cx="477.5" cy="111.7" r="2.92"/><circle cx="477.3" cy="114.5" r="3.00"/></g>
<circle cx="452" cy="128" r="2.95" fill="#21918c"/>
<g fill="#addc30"><circle cx="444.3" cy="121.0" r="3.00"/><circle cx="446.0" cy="125.9" r="3.01"/><circle cx="449.5" cy="128.7" r="2.94"/></g>
<g fill="#addc30"><circle cx="347.0" cy="123.8" r="3.39"/><circle cx="351.2" cy="125.8" r="3.24"/><circle cx="354.7" cy="126.6" r="3.24"/><circle cx="359.3" cy="126.6" r="3.22"/><circle cx="363.5" cy="126.1" r="3.27"/><circle cx="366.1" cy="122.9" r="3.24"/></g>
<g fill="#21918c"><circle cx="369.8" cy="121.1" r="2.88"/><circle cx="374.1" cy="123.1" r="2.93"/></g>
<g fill="#5ec962"><circle cx="378.5" cy="124.4" r="3.30"/></g>
<circle cx="374.7" cy="127.7" r="2.95" fill="#28ae80"/>
<circle cx="389" cy="121" r="2.95" fill="#472d7b"/>
<g fill="#472d7b"><circle cx="388.6" cy="128.7" r="3.00"/><circle cx="386.0" cy="132.0" r="3.16"/><circle cx="383.2" cy="136.0" r="3.07"/><circle cx="381.0" cy="139.1" r="3.14"/></g>
<g fill="#fde725"><circle cx="356.8" cy="137.0" r="3.39"/><circle cx="362.0" cy="136.9" r="3.23"/><circle cx="367.0" cy="138.8" r="3.32"/><circle cx="371.1" cy="141.2" r="3.26"/></g>
<g fill="#fde725"><circle cx="375.8" cy="144.2" r="3.03"/><circle cx="378.9" cy="146.9" r="2.89"/></g>
<g fill="#addc30"><circle cx="383.9" cy="142.0" r="3.31"/><circle cx="388.3" cy="144.0" r="3.31"/><circle cx="393.0" cy="146.2" r="3.29"/></g>
<circle cx="393.4" cy="135.4" r="2.95" fill="#5ec962"/>
<g fill="#21918c"><circle cx="397.2" cy="122.8" r="3.39"/><circle cx="401.9" cy="122.1" r="3.23"/><circle cx="406.8" cy="123.0" r="3.25"/></g>
<g fill="#21918c"><path d="M400.8,124.5 L400.5,125.0 L400.2,125.5 L400.2,126.0 L400.0,126.5 L400.0,127.0 L400.0,127.5 L400.0,128.0 L400.0,128.5 L400.0,129.0 L400.0,129.5 L400.0,130.0 L400.0,130.5 L400.0,131.0 L400.0,131.5 L400.0,132.0 L400.2,132.5 L400.2,133.0 L400.2,133.5 L400.2,134.0 L400.2,134.5 L400.5,135.0 L400.5,135.5 L400.8,136.0 L400.8,136.5 L401.0,137.0 L401.0,137.5 L401.0,138.0 L401.2,138.5 L401.2,139.0 L401.5,139.5 L401.5,140.0 L401.8,140.5 L401.8,141.0 L402.2,141.5 L402.8,141.5 L403.0,141.0 L403.0,140.5 L403.0,140.0 L402.8,139.5 L402.8,139.0 L402.5,138.5 L402.5,138.0 L402.5,137.5 L402.2,137.0 L402.2,136.5 L402.0,136.0 L402.0,135.5 L402.2,135.0 L402.0,134.5 L402.0,134.0 L402.0,133.5 L402.0,133.0 L402.0,132.5 L401.8,132.0 L401.8,131.5 L401.8,131.0 L401.8,130.5 L401.8,130.0 L401.8,129.5 L401.8,129.0 L401.8,128.5 L401.8,128.0 L401.8,127.5 L401.8,127.0 L401.8,126.5 L401.8,126.0 L401.8,125.5 L401.5,125.0 L401.2,124.5Z"/><circle cx="400.0" cy="126.5" r="2.98"/><circle cx="400.0" cy="130.7" r="3.05"/><circle cx="400.3" cy="134.8" r="2.87"/><circle cx="401.0" cy="137.7" r="2.94"/><circle cx="402.4" cy="141.5" r="3.06"/><circle cx="402.5" cy="137.5" r="2.94"/><circle cx="402.0" cy="134.4" r="2.88"/><circle cx="401.8" cy="129.9" r="3.05"/><circle cx="401.8" cy="126.5" r="2.94"/></g>
<g fill="#3b528b"><circle cx="410.7" cy="124.2" r="2.99"/><circle cx="415.2" cy="125.5" r="3.03"/><circle cx="420.2" cy="127.3" r="2.95"/><circle cx="423.9" cy="130.0" r="2.93"/></g>
<circle cx="417" cy="121.7" r="2.95" fill="#addc30"/>
<circle cx="427" cy="128.3" r="2.95" fill="#fde725"/>
<g fill="#fde725"><path d="M410.8,130.5 L410.5,131.0 L410.2,131.5 L410.2,132.0 L410.0,132.5 L410.0,133.0 L410.0,133.5 L410.0,134.0 L410.0,134.5 L410.0,135.0 L410.0,135.5 L410.0,136.0 L409.8,136.5 L409.8,137.0 L409.8,137.5 L409.5,138.0 L409.5,138.5 L409.5,139.0 L409.2,139.5 L409.2,140.0 L409.2,140.5 L409.2,141.0 L409.5,141.5 L409.5,142.0 L409.8,142.5 L410.2,142.5 L410.8,142.0 L410.8,141.5 L411.0,141.0 L411.0,140.5 L411.0,140.0 L411.2,139.5 L411.2,139.0 L411.2,138.5 L411.5,138.0 L411.5,137.5 L411.5,137.0 L411.5,136.5 L411.5,136.0 L411.8,135.5 L411.8,135.0 L411.8,134.5 L411.8,134.0 L411.8,133.5 L411.8,133.0 L411.8,132.5 L411.8,132.0 L411.8,131.5 L411.5,131.0 L411.2,130.5Z"/><circle cx="410.0" cy="133.5" r="3.00"/><circle cx="409.8" cy="136.3" r="2.99"/><circle cx="409.3" cy="141.1" r="2.95"/><circle cx="410.8" cy="141.4" r="2.89"/><circle cx="411.5" cy="138.0" r="2.97"/><circle cx="411.8" cy="133.8" r="2.97"/><circle cx="411.4" cy="130.7" r="2.91"/></g>
<circle cx="416" cy="132.7" r="2.95" fill="#5ec962"/>
<g fill="#5ec962"><circle cx="424.1" cy="138.8" r="3.22"/><circle cx="427.8" cy="137.4" r="3.38"/><circle cx="431.5" cy="135.8" r="3.31"/><circle cx="435.0" cy="134.2" r="3.34"/></g>
<g fill="#440154"><circle cx="433.3" cy="142.8" r="3.01"/><circle cx="436.0" cy="147.3" r="2.96"/></g>
<circle cx="437" cy="146" r="2.95" fill="#21918c"/>
<g fill="#472d7b"><circle cx="415.8" cy="146.6" r="2.93"/><circle cx="421.2" cy="147.1" r="2.95"/></g>
<circle cx="406.5" cy="146.5" r="2.95" fill="#fde725"/>
<g fill="#2c728e"><circle cx="465.1" cy="131.4" r="3.28"/><circle cx="462.1" cy="134.0" r="3.31"/><circle cx="458.5" cy="137.3" r="3.27"/><circle cx="454.7" cy="140.4" r="3.29"/><circle cx="452.0" cy="143.9" r="3.26"/><circle cx="449.5" cy="148.7" r="3.22"/></g>
<g fill="#5ec962"><circle cx="464.0" cy="132.2" r="2.24"/><circle cx="460.0" cy="135.4" r="2.21"/><circle cx="457.5" cy="138.0" r="2.20"/><circle cx="454.1" cy="141.1" r="2.22"/><circle cx="451.1" cy="144.4" r="2.24"/></g>
<circle cx="369.5" cy="155" r="2.95" fill="#2c728e"/>
<g fill="#fde725"><circle cx="375.0" cy="146.0" r="3.29"/><circle cx="378.1" cy="150.0" r="3.23"/><circle cx="381.8" cy="153.1" r="3.22"/></g>
<g fill="#3b528b"><circle cx="383.7" cy="154.1" r="2.81"/><circle cx="388.8" cy="154.2" r="2.89"/></g>
<g fill="#addc30"><circle cx="385.3" cy="146.8" r="3.30"/><circle cx="389.4" cy="145.8" r="3.33"/><circle cx="393.0" cy="150.0" r="3.31"/><circle cx="387.7" cy="150.8" r="3.26"/></g>
<circle cx="396.8" cy="149.5" r="2.95" fill="#3b528b"/>
<g fill="#5ec962"><circle cx="392.4" cy="157.8" r="3.30"/></g>
<g fill="#fde725"><circle cx="406.9" cy="147.5" r="3.22"/><circle cx="403.8" cy="151.5" r="3.27"/><circle cx="401.7" cy="155.9" r="3.23"/></g>
<g fill="#3b528b"><path d="M408.8,158.8 L408.2,159.0 L407.8,159.5 L407.2,160.0 L406.8,160.5 L406.2,161.0 L405.8,161.5 L405.2,161.8 L404.8,162.0 L404.2,162.0 L403.8,162.2 L403.2,162.0 L402.8,162.0 L402.2,161.8 L401.8,161.5 L401.2,161.2 L400.8,161.2 L400.2,161.5 L400.2,162.0 L400.2,162.5 L400.2,163.0 L400.5,163.5 L400.8,164.0 L401.0,164.5 L401.2,165.0 L401.5,165.5 L402.0,166.0 L402.2,166.5 L402.8,166.8 L403.2,166.8 L403.8,166.5 L404.0,166.0 L404.5,165.5 L405.0,165.0 L405.5,164.5 L406.0,164.0 L406.5,163.5 L407.0,163.0 L407.5,162.5 L408.0,162.2 L408.5,161.8 L409.0,161.8 L409.5,161.5 L410.0,161.5 L410.5,161.8 L411.0,161.8 L411.5,162.2 L412.0,162.5 L412.5,163.0 L413.0,163.2 L413.5,163.8 L414.0,164.0 L414.5,164.2 L415.0,164.5 L415.5,164.8 L416.0,165.0 L416.5,165.2 L417.0,165.5 L417.5,165.8 L418.0,166.0 L418.5,166.2 L419.0,166.2 L419.5,166.5 L420.0,166.5 L420.5,166.8 L421.0,166.8 L421.5,166.8 L422.0,167.0 L422.5,167.0 L423.0,167.2 L423.5,167.2 L424.0,167.2 L424.5,167.2 L424.8,166.8 L424.8,166.2 L424.5,165.8 L424.0,165.5 L423.5,165.5 L423.0,165.2 L422.5,165.2 L422.0,165.0 L421.5,165.0 L421.0,164.8 L420.5,164.8 L420.0,164.5 L419.5,164.5 L419.0,164.2 L418.5,164.0 L418.0,163.8 L417.5,163.5 L417.0,163.2 L416.5,163.0 L416.0,162.8 L415.5,162.5 L415.0,162.2 L414.5,162.0 L414.0,161.5 L413.5,161.2 L413.0,161.0 L412.5,160.5 L412.0,160.2 L411.5,159.8 L411.0,159.5 L410.5,159.0 L410.0,159.0 L409.5,158.8 L409.0,158.8Z"/><circle cx="407.6" cy="159.6" r="3.05"/><circle cx="403.9" cy="162.2" r="2.90"/><circle cx="400.5" cy="161.3" r="3.06"/><circle cx="401.2" cy="164.7" r="2.84"/><circle cx="404.0" cy="166.3" r="2.89"/><circle cx="406.4" cy="163.6" r="2.87"/><circle cx="409.3" cy="161.7" r="2.93"/><circle cx="412.7" cy="163.0" r="3.01"/><circle cx="416.1" cy="165.1" r="3.03"/><circle cx="419.5" cy="166.5" r="2.98"/><circle cx="422.8" cy="167.0" r="3.02"/><circle cx="424.0" cy="165.5" r="3.02"/><circle cx="420.7" cy="164.8" r="3.06"/><circle cx="416.7" cy="163.0" r="2.88"/><circle cx="413.5" cy="161.3" r="2.96"/><circle cx="410.7" cy="159.2" r="3.02"/></g>
<g fill="#fde725"><circle cx="401.5" cy="162.0" r="3.30"/></g>
<circle cx="411.5" cy="161.6" r="2.8" fill="#fde725"/>
<g fill="#fde725"><circle cx="417.0" cy="166.6" r="3.05"/></g>
<circle cx="424.2" cy="166" r="2.8" fill="#addc30"/>
<g fill="#472d7b"><circle cx="414.5" cy="146.7" r="3.40"/><circle cx="418.2" cy="149.3" r="3.38"/><circle cx="420.1" cy="152.6" r="3.31"/><circle cx="421.7" cy="154.6" r="3.20"/><circle cx="426.1" cy="155.6" r="3.38"/><circle cx="430.1" cy="157.4" r="3.37"/></g>
<g fill="#440154"><circle cx="431.2" cy="144.0" r="3.34"/><circle cx="434.9" cy="146.6" r="3.23"/><circle cx="437.6" cy="150.5" r="3.39"/><circle cx="440.9" cy="154.0" r="3.38"/><circle cx="443.5" cy="157.0" r="3.24"/></g>
<circle cx="437.4" cy="147.9" r="2.3" fill="#21918c"/>
<g fill="#21918c"><circle cx="450.2" cy="147.8" r="2.90"/><circle cx="453.0" cy="144.7" r="2.99"/></g>
<rect x="24.3" y="7.0" width="208.0" height="193.0" fill="none" stroke="#333" stroke-width="1.1"/>
<rect x="306.1" y="7.0" width="208.0" height="193.0" fill="none" stroke="#333" stroke-width="1.1"/>
<g font-family="'DejaVu Sans', 'Liberation Sans', sans-serif" font-size="7.4" fill="#000" stroke="#000" stroke-width="0.12">
<line x1="24.30" y1="200.0" x2="24.30" y2="202.2" stroke="#333" stroke-width="1.1"/>
<text x="24.30" y="210.6" text-anchor="middle">−80</text>
<line x1="50.30" y1="200.0" x2="50.30" y2="202.2" stroke="#333" stroke-width="1.1"/>
<text x="50.30" y="210.6" text-anchor="middle">−60</text>
<line x1="76.30" y1="200.0" x2="76.30" y2="202.2" stroke="#333" stroke-width="1.1"/>
<text x="76.30" y="210.6" text-anchor="middle">−40</text>
<line x1="102.30" y1="200.0" x2="102.30" y2="202.2" stroke="#333" stroke-width="1.1"/>
<text x="102.30" y="210.6" text-anchor="middle">−20</text>
<line x1="128.30" y1="200.0" x2="128.30" y2="202.2" stroke="#333" stroke-width="1.1"/>
<text x="128.30" y="210.6" text-anchor="middle">0</text>
<line x1="154.30" y1="200.0" x2="154.30" y2="202.2" stroke="#333" stroke-width="1.1"/>
<text x="154.30" y="210.6" text-anchor="middle">20</text>
<line x1="180.30" y1="200.0" x2="180.30" y2="202.2" stroke="#333" stroke-width="1.1"/>
<text x="180.30" y="210.6" text-anchor="middle">40</text>
<line x1="206.30" y1="200.0" x2="206.30" y2="202.2" stroke="#333" stroke-width="1.1"/>
<text x="206.30" y="210.6" text-anchor="middle">60</text>
<line x1="232.30" y1="200.0" x2="232.30" y2="202.2" stroke="#333" stroke-width="1.1"/>
<text x="232.30" y="210.6" text-anchor="middle">80</text>
<line x1="22.1" y1="200.00" x2="24.3" y2="200.00" stroke="#333" stroke-width="1.1"/>
<text x="20.1" y="202.50" text-anchor="end">−80</text>
<line x1="22.1" y1="175.88" x2="24.3" y2="175.88" stroke="#333" stroke-width="1.1"/>
<text x="20.1" y="178.38" text-anchor="end">−60</text>
<line x1="22.1" y1="151.75" x2="24.3" y2="151.75" stroke="#333" stroke-width="1.1"/>
<text x="20.1" y="154.25" text-anchor="end">−40</text>
<line x1="22.1" y1="127.62" x2="24.3" y2="127.62" stroke="#333" stroke-width="1.1"/>
<text x="20.1" y="130.12" text-anchor="end">−20</text>
<line x1="22.1" y1="103.50" x2="24.3" y2="103.50" stroke="#333" stroke-width="1.1"/>
<text x="20.1" y="106.00" text-anchor="end">0</text>
<line x1="22.1" y1="79.38" x2="24.3" y2="79.38" stroke="#333" stroke-width="1.1"/>
<text x="20.1" y="81.88" text-anchor="end">20</text>
<line x1="22.1" y1="55.25" x2="24.3" y2="55.25" stroke="#333" stroke-width="1.1"/>
<text x="20.1" y="57.75" text-anchor="end">40</text>
<line x1="22.1" y1="31.12" x2="24.3" y2="31.12" stroke="#333" stroke-width="1.1"/>
<text x="20.1" y="33.62" text-anchor="end">60</text>
<line x1="22.1" y1="7.00" x2="24.3" y2="7.00" stroke="#333" stroke-width="1.1"/>
<text x="20.1" y="9.50" text-anchor="end">80</text>
<line x1="306.10" y1="200.0" x2="306.10" y2="202.2" stroke="#333" stroke-width="1.1"/>
<text x="306.10" y="210.6" text-anchor="middle">−150</text>
<line x1="340.77" y1="200.0" x2="340.77" y2="202.2" stroke="#333" stroke-width="1.1"/>
<text x="340.77" y="210.6" text-anchor="middle">−100</text>
<line x1="375.43" y1="200.0" x2="375.43" y2="202.2" stroke="#333" stroke-width="1.1"/>
<text x="375.43" y="210.6" text-anchor="middle">−50</text>
<line x1="410.10" y1="200.0" x2="410.10" y2="202.2" stroke="#333" stroke-width="1.1"/>
<text x="410.10" y="210.6" text-anchor="middle">0</text>
<line x1="444.77" y1="200.0" x2="444.77" y2="202.2" stroke="#333" stroke-width="1.1"/>
<text x="444.77" y="210.6" text-anchor="middle">50</text>
<line x1="479.43" y1="200.0" x2="479.43" y2="202.2" stroke="#333" stroke-width="1.1"/>
<text x="479.43" y="210.6" text-anchor="middle">100</text>
<line x1="514.10" y1="200.0" x2="514.10" y2="202.2" stroke="#333" stroke-width="1.1"/>
<text x="514.10" y="210.6" text-anchor="middle">150</text>
<line x1="303.90000000000003" y1="200.00" x2="306.1" y2="200.00" stroke="#333" stroke-width="1.1"/>
<text x="301.90000000000003" y="202.50" text-anchor="end">−150</text>
<line x1="303.90000000000003" y1="167.83" x2="306.1" y2="167.83" stroke="#333" stroke-width="1.1"/>
<text x="301.90000000000003" y="170.33" text-anchor="end">−100</text>
<line x1="303.90000000000003" y1="135.67" x2="306.1" y2="135.67" stroke="#333" stroke-width="1.1"/>
<text x="301.90000000000003" y="138.17" text-anchor="end">−50</text>
<line x1="303.90000000000003" y1="103.50" x2="306.1" y2="103.50" stroke="#333" stroke-width="1.1"/>
<text x="301.90000000000003" y="106.00" text-anchor="end">0</text>
<line x1="303.90000000000003" y1="71.33" x2="306.1" y2="71.33" stroke="#333" stroke-width="1.1"/>
<text x="301.90000000000003" y="73.83" text-anchor="end">50</text>
<line x1="303.90000000000003" y1="39.17" x2="306.1" y2="39.17" stroke="#333" stroke-width="1.1"/>
<text x="301.90000000000003" y="41.67" text-anchor="end">100</text>
<line x1="303.90000000000003" y1="7.00" x2="306.1" y2="7.00" stroke="#333" stroke-width="1.1"/>
<text x="301.90000000000003" y="9.50" text-anchor="end">150</text>
<rect x="245.3" y="7.0" width="10.0" height="193.0" fill="url(#g1)" stroke="#333" stroke-width="1.1"/>
<line x1="255.3" y1="200.00" x2="257.5" y2="200.00" stroke="#333" stroke-width="1.1"/>
<text x="259.90000000000003" y="202.50">0</text>
<line x1="255.3" y1="161.40" x2="257.5" y2="161.40" stroke="#333" stroke-width="1.1"/>
<text x="259.90000000000003" y="163.90">1</text>
<line x1="255.3" y1="122.80" x2="257.5" y2="122.80" stroke="#333" stroke-width="1.1"/>
<text x="259.90000000000003" y="125.30">2</text>
<line x1="255.3" y1="84.20" x2="257.5" y2="84.20" stroke="#333" stroke-width="1.1"/>
<text x="259.90000000000003" y="86.70">3</text>
<line x1="255.3" y1="45.60" x2="257.5" y2="45.60" stroke="#333" stroke-width="1.1"/>
<text x="259.90000000000003" y="48.10">4</text>
<line x1="255.3" y1="7.00" x2="257.5" y2="7.00" stroke="#333" stroke-width="1.1"/>
<text x="259.90000000000003" y="9.50">5</text>
<rect x="527.3" y="7.0" width="9.5" height="193.0" fill="url(#g1)" stroke="#333" stroke-width="1.1"/>
<line x1="536.8" y1="200.00" x2="539.0" y2="200.00" stroke="#333" stroke-width="1.1"/>
<text x="541.4" y="202.50">0</text>
<line x1="536.8" y1="175.88" x2="539.0" y2="175.88" stroke="#333" stroke-width="1.1"/>
<text x="541.4" y="178.38">1</text>
<line x1="536.8" y1="151.75" x2="539.0" y2="151.75" stroke="#333" stroke-width="1.1"/>
<text x="541.4" y="154.25">2</text>
<line x1="536.8" y1="127.62" x2="539.0" y2="127.62" stroke="#333" stroke-width="1.1"/>
<text x="541.4" y="130.12">3</text>
<line x1="536.8" y1="103.50" x2="539.0" y2="103.50" stroke="#333" stroke-width="1.1"/>
<text x="541.4" y="106.00">4</text>
<line x1="536.8" y1="79.38" x2="539.0" y2="79.38" stroke="#333" stroke-width="1.1"/>
<text x="541.4" y="81.88">5</text>
<line x1="536.8" y1="55.25" x2="539.0" y2="55.25" stroke="#333" stroke-width="1.1"/>
<text x="541.4" y="57.75">6</text>
<line x1="536.8" y1="31.12" x2="539.0" y2="31.12" stroke="#333" stroke-width="1.1"/>
<text x="541.4" y="33.62">7</text>
<line x1="536.8" y1="7.00" x2="539.0" y2="7.00" stroke="#333" stroke-width="1.1"/>
<text x="541.4" y="9.50">8</text>
</g>
<text x="37.6" y="247.5" font-family="'Liberation Serif', 'DejaVu Serif', serif" font-size="12.2" fill="#111" textLength="149" lengthAdjust="spacingAndGlyphs">(<tspan font-weight="bold">a</tspan>) Static feature distribution</text>
<text x="308" y="247.5" font-family="'Liberation Serif', 'DejaVu Serif', serif" font-size="12.2" fill="#111" textLength="171" lengthAdjust="spacingAndGlyphs">(<tspan font-weight="bold">b</tspan>) Dynamic feature distribution</text>
</svg>
</body></html>
